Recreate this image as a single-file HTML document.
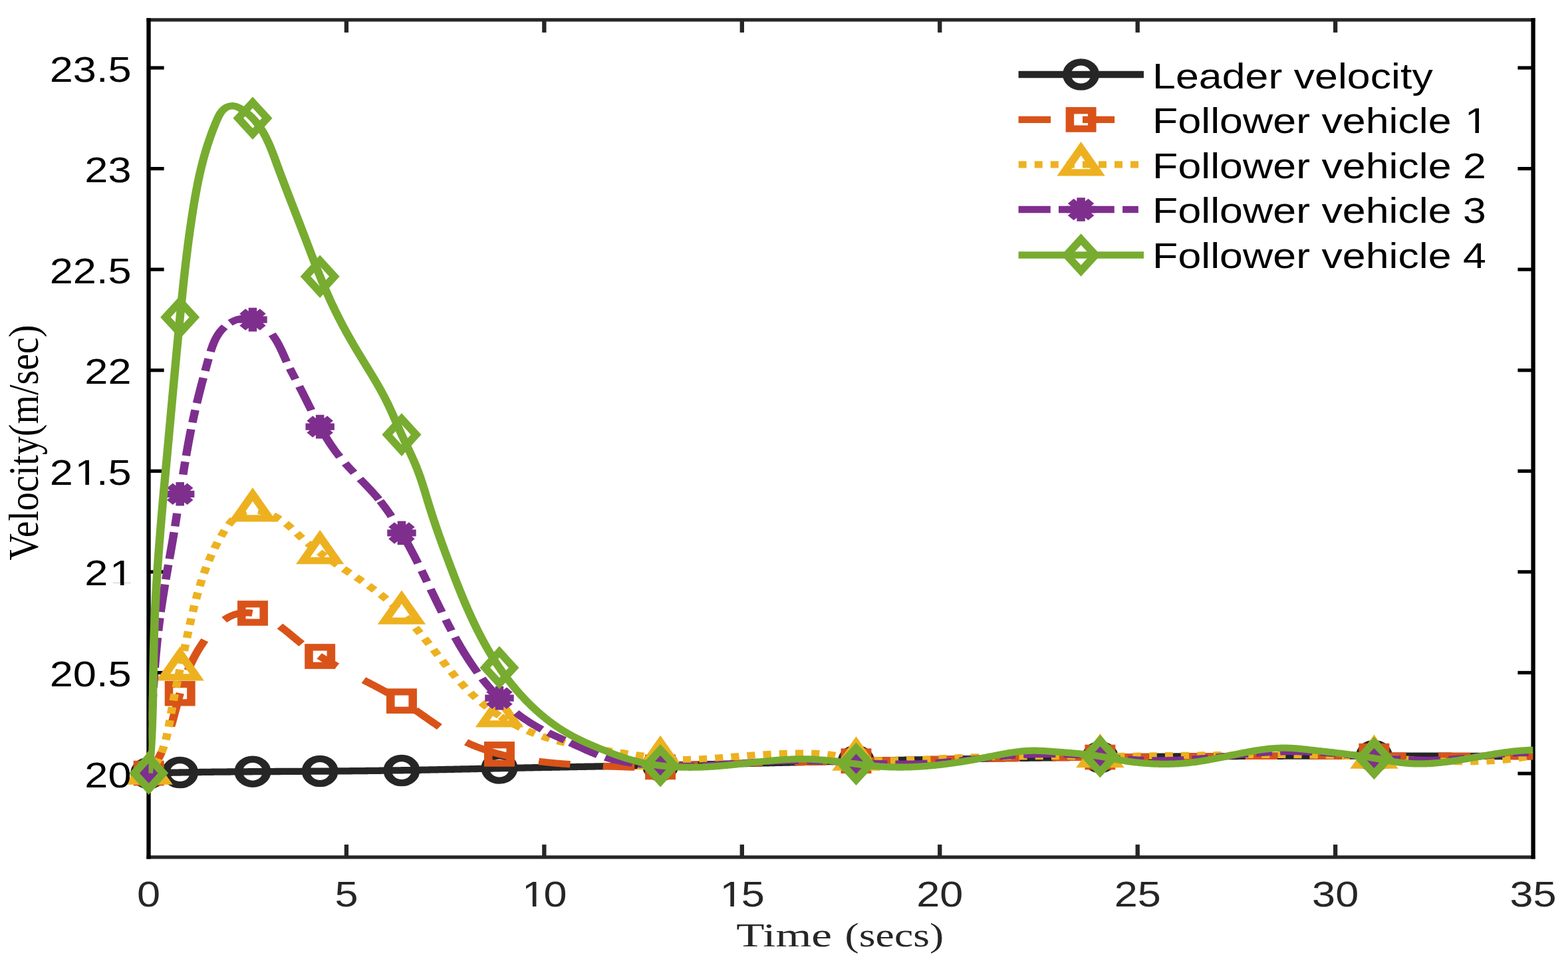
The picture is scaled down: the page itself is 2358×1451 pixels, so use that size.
<!DOCTYPE html>
<html lang="en"><head><meta charset="utf-8"><title>Velocity of leader and follower vehicles</title>
<style>html,body{margin:0;padding:0;background:#fff;}body{width:2358px;height:1451px;overflow:hidden;}svg{display:block;}text{white-space:pre;}.sans{font-family:"Liberation Sans",Arial,Helvetica,sans-serif;}.serif{font-family:"Liberation Serif","Times New Roman",Times,serif;}</style></head><body>
<svg xmlns="http://www.w3.org/2000/svg" width="2358" height="1451" viewBox="0 0 2358 1451">
<rect x="0" y="0" width="2358" height="1451" fill="#ffffff"/>
<g transform="scale(1.2188,1)" fill="none">
<g stroke="#262626" stroke-width="5.2">
<line x1="180.78" y1="1288.9" x2="1894.3" y2="1288.9"/>
<line x1="180.78" y1="29.9" x2="1894.3" y2="29.9"/>
<line x1="427.42" y1="1288.9" x2="427.42" y2="1269.9"/>
<line x1="427.42" y1="29.9" x2="427.42" y2="48.9"/>
<line x1="671.47" y1="1288.9" x2="671.47" y2="1269.9"/>
<line x1="671.47" y1="29.9" x2="671.47" y2="48.9"/>
<line x1="915.51" y1="1288.9" x2="915.51" y2="1269.9"/>
<line x1="915.51" y1="29.9" x2="915.51" y2="48.9"/>
<line x1="1159.56" y1="1288.9" x2="1159.56" y2="1269.9"/>
<line x1="1159.56" y1="29.9" x2="1159.56" y2="48.9"/>
<line x1="1403.61" y1="1288.9" x2="1403.61" y2="1269.9"/>
<line x1="1403.61" y1="29.9" x2="1403.61" y2="48.9"/>
<line x1="1647.65" y1="1288.9" x2="1647.65" y2="1269.9"/>
<line x1="1647.65" y1="29.9" x2="1647.65" y2="48.9"/>
</g>
<g stroke="#000000" stroke-width="5.2">
<line x1="183.38" y1="27.3" x2="183.38" y2="1291.5"/>
<line x1="1891.7" y1="27.3" x2="1891.7" y2="1291.5"/>
<line x1="183.38" y1="1163.05" x2="202.38" y2="1163.05"/>
<line x1="1891.7" y1="1163.05" x2="1872.7" y2="1163.05"/>
<line x1="183.38" y1="1011.47" x2="202.38" y2="1011.47"/>
<line x1="1891.7" y1="1011.47" x2="1872.7" y2="1011.47"/>
<line x1="183.38" y1="859.89" x2="202.38" y2="859.89"/>
<line x1="1891.7" y1="859.89" x2="1872.7" y2="859.89"/>
<line x1="183.38" y1="708.31" x2="202.38" y2="708.31"/>
<line x1="1891.7" y1="708.31" x2="1872.7" y2="708.31"/>
<line x1="183.38" y1="556.74" x2="202.38" y2="556.74"/>
<line x1="1891.7" y1="556.74" x2="1872.7" y2="556.74"/>
<line x1="183.38" y1="405.16" x2="202.38" y2="405.16"/>
<line x1="1891.7" y1="405.16" x2="1872.7" y2="405.16"/>
<line x1="183.38" y1="253.58" x2="202.38" y2="253.58"/>
<line x1="1891.7" y1="253.58" x2="1872.7" y2="253.58"/>
<line x1="183.38" y1="102" x2="202.38" y2="102"/>
<line x1="1891.7" y1="102" x2="1872.7" y2="102"/>
</g>
<clipPath id="axclip"><rect x="183.38" y="29.9" width="1708.32" height="1259"/></clipPath>
<g stroke="#262626" stroke-width="10.3" stroke-linejoin="round">
<g clip-path="url(#axclip)">
<path d="M183.54 1162.6L185.04 1162.55L186.54 1162.5L188.04 1162.45L189.54 1162.4L191.04 1162.35L192.54 1162.3L194.04 1162.25L195.54 1162.21L197.03 1162.16L198.53 1162.12L200.03 1162.07L201.53 1162.03L203.03 1161.99L204.53 1161.94L206.03 1161.9L207.53 1161.86L209.03 1161.82L210.53 1161.78L212.03 1161.74L213.53 1161.7L215.03 1161.67L216.53 1161.63L218.03 1161.59L219.53 1161.56L221.03 1161.52L222.53 1161.49L224.02 1161.45L225.52 1161.42L227.02 1161.38L228.52 1161.35L230.02 1161.32L231.52 1161.29L233.02 1161.26L234.52 1161.23L236.02 1161.2L237.52 1161.17L239.02 1161.14L240.52 1161.11L242.02 1161.08L243.52 1161.06L245.02 1161.03L246.52 1161L248.02 1160.98L249.52 1160.95L251.02 1160.93L252.52 1160.9L254.02 1160.88L255.52 1160.85L257.02 1160.83L258.52 1160.81L260.02 1160.79L261.52 1160.76L263.02 1160.74L264.52 1160.72L266.02 1160.7L267.52 1160.68L269.02 1160.66L270.52 1160.64L272.02 1160.62L273.52 1160.6L275.01 1160.58L276.51 1160.56L278.01 1160.55L279.51 1160.53L281.01 1160.51L282.51 1160.5L284.01 1160.48L285.51 1160.46L287.01 1160.45L288.51 1160.43L290.01 1160.42L291.51 1160.4L293.01 1160.39L294.51 1160.37L296.01 1160.36L297.51 1160.34L299.01 1160.33L300.51 1160.31L302.01 1160.3L303.51 1160.29L305.01 1160.28L306.51 1160.26L308.01 1160.25L309.51 1160.24L311.01 1160.23L312.51 1160.21L314.01 1160.2L315.51 1160.19L317.01 1160.18L318.51 1160.17L320.01 1160.16L321.51 1160.14L323.01 1160.13L324.51 1160.12L326.01 1160.11L327.51 1160.1L329.01 1160.09L330.51 1160.08L332.01 1160.07L333.51 1160.06L335.01 1160.05L336.51 1160.04L338.01 1160.03L339.51 1160.02L341.01 1160.01L342.51 1160L344.01 1159.99L345.51 1159.98L347.01 1159.97L348.51 1159.96L350.01 1159.95L351.51 1159.94L353.01 1159.93L354.51 1159.92L356.01 1159.91L357.51 1159.9L359.01 1159.9L360.51 1159.89L362.01 1159.88L363.51 1159.87L365.01 1159.86L366.51 1159.85L368.01 1159.84L369.51 1159.83L371.01 1159.82L372.51 1159.81L374.01 1159.8L375.51 1159.79L377.01 1159.77L378.51 1159.76L380.01 1159.75L381.51 1159.74L383.01 1159.73L384.51 1159.72L386.01 1159.71L387.51 1159.7L389.01 1159.69L390.51 1159.67L392.01 1159.66L393.51 1159.65L395.01 1159.64L396.51 1159.62L398.01 1159.61L399.51 1159.6L401.01 1159.59L402.51 1159.57L404.01 1159.56L405.51 1159.55L407.01 1159.53L408.51 1159.52L410.01 1159.5L411.51 1159.49L413.01 1159.47L414.51 1159.46L416.01 1159.44L417.51 1159.43L419.01 1159.41L420.51 1159.4L422.01 1159.38L423.51 1159.36L425.01 1159.35L426.51 1159.33L428.01 1159.31L429.51 1159.3L431.01 1159.28L432.51 1159.26L434.01 1159.24L435.51 1159.22L437.01 1159.21L438.51 1159.19L440.01 1159.17L441.51 1159.15L443.01 1159.13L444.51 1159.11L446.01 1159.09L447.5 1159.07L449 1159.05L450.5 1159.03L452 1159.01L453.5 1158.99L455 1158.96L456.5 1158.94L458 1158.92L459.5 1158.9L461 1158.87L462.5 1158.85L464 1158.83L465.5 1158.8L467 1158.78L468.5 1158.76L470 1158.73L471.5 1158.71L473 1158.68L474.5 1158.66L476 1158.63L477.5 1158.6L479 1158.58L480.5 1158.55L482 1158.52L483.5 1158.5L485 1158.47L486.5 1158.44L488 1158.41L489.5 1158.39L491 1158.36L492.5 1158.33L493.99 1158.3L495.49 1158.27L496.99 1158.24L498.49 1158.21L499.99 1158.18L501.49 1158.15L502.99 1158.11L504.49 1158.08L505.99 1158.05L507.49 1158.02L508.99 1157.99L510.49 1157.95L511.99 1157.92L513.49 1157.89L514.99 1157.85L516.49 1157.82L517.99 1157.78L519.49 1157.75L520.99 1157.72L522.49 1157.68L523.99 1157.65L525.48 1157.61L526.98 1157.57L528.48 1157.54L529.98 1157.5L531.48 1157.47L532.98 1157.43L534.48 1157.39L535.98 1157.36L537.48 1157.32L538.98 1157.28L540.48 1157.25L541.98 1157.21L543.48 1157.17L544.98 1157.13L546.48 1157.1L547.98 1157.06L549.48 1157.02L550.98 1156.98L552.47 1156.94L553.97 1156.9L555.47 1156.87L556.97 1156.83L558.47 1156.79L559.97 1156.75L561.47 1156.71L562.97 1156.67L564.47 1156.63L565.97 1156.59L567.47 1156.55L568.97 1156.51L570.47 1156.47L571.97 1156.43L573.47 1156.4L574.97 1156.36L576.47 1156.32L577.97 1156.28L579.46 1156.24L580.96 1156.2L582.46 1156.16L583.96 1156.12L585.46 1156.08L586.96 1156.04L588.46 1156L589.96 1155.96L591.46 1155.92L592.96 1155.88L594.46 1155.84L595.96 1155.8L597.46 1155.76L598.96 1155.72L600.46 1155.68L601.96 1155.64L603.46 1155.6L604.95 1155.56L606.45 1155.52L607.95 1155.49L609.45 1155.45L610.95 1155.41L612.45 1155.37L613.95 1155.33L615.45 1155.29L616.95 1155.25L618.45 1155.21L619.95 1155.18L621.45 1155.14L622.95 1155.1L624.45 1155.06L625.95 1155.02L627.45 1154.99L628.95 1154.95L630.45 1154.91L631.94 1154.87L633.44 1154.84L634.94 1154.8L636.44 1154.76L637.94 1154.73L639.44 1154.69L640.94 1154.65L642.44 1154.62L643.94 1154.58L645.44 1154.54L646.94 1154.51L648.44 1154.47L649.94 1154.43L651.44 1154.4L652.94 1154.36L654.44 1154.33L655.94 1154.29L657.44 1154.25L658.94 1154.22L660.44 1154.18L661.94 1154.15L663.43 1154.11L664.93 1154.08L666.43 1154.04L667.93 1154L669.43 1153.97L670.93 1153.93L672.43 1153.9L673.93 1153.86L675.43 1153.83L676.93 1153.79L678.43 1153.76L679.93 1153.73L681.43 1153.69L682.93 1153.66L684.43 1153.62L685.93 1153.59L687.43 1153.55L688.93 1153.52L690.43 1153.48L691.93 1153.45L693.43 1153.41L694.93 1153.38L696.42 1153.35L697.92 1153.31L699.42 1153.28L700.92 1153.24L702.42 1153.21L703.92 1153.18L705.42 1153.14L706.92 1153.11L708.42 1153.07L709.92 1153.04L711.42 1153.01L712.92 1152.97L714.42 1152.94L715.92 1152.91L717.42 1152.87L718.92 1152.84L720.42 1152.8L721.92 1152.77L723.42 1152.74L724.92 1152.7L726.42 1152.67L727.92 1152.64L729.42 1152.6L730.91 1152.57L732.41 1152.54L733.91 1152.5L735.41 1152.47L736.91 1152.44L738.41 1152.4L739.91 1152.37L741.41 1152.34L742.91 1152.3L744.41 1152.27L745.91 1152.24L747.41 1152.2L748.91 1152.17L750.41 1152.13L751.91 1152.1L753.41 1152.07L754.91 1152.03L756.41 1152L757.91 1151.97L759.41 1151.93L760.91 1151.9L762.41 1151.87L763.91 1151.83L765.41 1151.8L766.9 1151.77L768.4 1151.73L769.9 1151.7L771.4 1151.67L772.9 1151.63L774.4 1151.6L775.9 1151.56L777.4 1151.53L778.9 1151.5L780.4 1151.46L781.9 1151.43L783.4 1151.4L784.9 1151.36L786.4 1151.33L787.9 1151.29L789.4 1151.26L790.9 1151.23L792.4 1151.19L793.9 1151.16L795.4 1151.12L796.9 1151.09L798.4 1151.05L799.9 1151.02L801.39 1150.99L802.89 1150.95L804.39 1150.92L805.89 1150.88L807.39 1150.85L808.89 1150.81L810.39 1150.78L811.89 1150.74L813.39 1150.71L814.89 1150.67L816.39 1150.64L817.89 1150.6L819.39 1150.57L820.89 1150.53L822.39 1150.5L823.89 1150.46L825.39 1150.43L826.89 1150.39L828.39 1150.36L829.89 1150.32L831.39 1150.29L832.88 1150.25L834.38 1150.21L835.88 1150.18L837.38 1150.14L838.88 1150.11L840.38 1150.07L841.88 1150.03L843.38 1150L844.88 1149.96L846.38 1149.92L847.88 1149.89L849.38 1149.85L850.88 1149.81L852.38 1149.78L853.88 1149.74L855.38 1149.7L856.88 1149.67L858.38 1149.63L859.88 1149.59L861.38 1149.55L862.87 1149.52L864.37 1149.48L865.87 1149.44L867.37 1149.4L868.87 1149.37L870.37 1149.33L871.87 1149.29L873.37 1149.25L874.87 1149.21L876.37 1149.17L877.87 1149.14L879.37 1149.1L880.87 1149.06L882.37 1149.02L883.87 1148.98L885.37 1148.94L886.87 1148.9L888.37 1148.86L889.87 1148.82L891.36 1148.78L892.86 1148.74L894.36 1148.7L895.86 1148.67L897.36 1148.63L898.86 1148.59L900.36 1148.55L901.86 1148.51L903.36 1148.47L904.86 1148.42L906.36 1148.38L907.86 1148.34L909.36 1148.3L910.86 1148.26L912.36 1148.22L913.86 1148.18L915.36 1148.14L916.85 1148.1L918.35 1148.06L919.85 1148.02L921.35 1147.98L922.85 1147.94L924.35 1147.89L925.85 1147.85L927.35 1147.81L928.85 1147.77L930.35 1147.73L931.85 1147.69L933.35 1147.65L934.85 1147.6L936.35 1147.56L937.85 1147.52L939.35 1147.48L940.85 1147.44L942.34 1147.39L943.84 1147.35L945.34 1147.31L946.84 1147.27L948.34 1147.23L949.84 1147.18L951.34 1147.14L952.84 1147.1L954.34 1147.06L955.84 1147.02L957.34 1146.97L958.84 1146.93L960.34 1146.89L961.84 1146.85L963.34 1146.8L964.84 1146.76L966.33 1146.72L967.83 1146.68L969.33 1146.63L970.83 1146.59L972.33 1146.55L973.83 1146.51L975.33 1146.46L976.83 1146.42L978.33 1146.38L979.83 1146.34L981.33 1146.29L982.83 1146.25L984.33 1146.21L985.83 1146.17L987.33 1146.12L988.83 1146.08L990.33 1146.04L991.82 1146L993.32 1145.96L994.82 1145.91L996.32 1145.87L997.82 1145.83L999.32 1145.79L1000.82 1145.74L1002.32 1145.7L1003.82 1145.66L1005.32 1145.62L1006.82 1145.58L1008.32 1145.53L1009.82 1145.49L1011.32 1145.45L1012.82 1145.41L1014.32 1145.37L1015.82 1145.33L1017.31 1145.28L1018.81 1145.24L1020.31 1145.2L1021.81 1145.16L1023.31 1145.12L1024.81 1145.08L1026.31 1145.04L1027.81 1144.99L1029.31 1144.95L1030.81 1144.91L1032.31 1144.87L1033.81 1144.83L1035.31 1144.79L1036.81 1144.75L1038.31 1144.71L1039.81 1144.67L1041.31 1144.63L1042.8 1144.59L1044.3 1144.55L1045.8 1144.51L1047.3 1144.47L1048.8 1144.43L1050.3 1144.39L1051.8 1144.35L1053.3 1144.31L1054.8 1144.27L1056.3 1144.23L1057.8 1144.19L1059.3 1144.15L1060.8 1144.11L1062.3 1144.07L1063.8 1144.03L1065.3 1143.99L1066.8 1143.96L1068.3 1143.92L1069.8 1143.88L1071.29 1143.84L1072.79 1143.8L1074.29 1143.76L1075.79 1143.73L1077.29 1143.69L1078.79 1143.65L1080.29 1143.61L1081.79 1143.57L1083.29 1143.54L1084.79 1143.5L1086.29 1143.46L1087.79 1143.43L1089.29 1143.39L1090.79 1143.35L1092.29 1143.32L1093.79 1143.28L1095.29 1143.24L1096.79 1143.21L1098.29 1143.17L1099.79 1143.13L1101.28 1143.1L1102.78 1143.06L1104.28 1143.03L1105.78 1142.99L1107.28 1142.95L1108.78 1142.92L1110.28 1142.88L1111.78 1142.85L1113.28 1142.81L1114.78 1142.78L1116.28 1142.74L1117.78 1142.71L1119.28 1142.67L1120.78 1142.64L1122.28 1142.6L1123.78 1142.57L1125.28 1142.53L1126.78 1142.5L1128.28 1142.47L1129.78 1142.43L1131.28 1142.4L1132.77 1142.36L1134.27 1142.33L1135.77 1142.3L1137.27 1142.26L1138.77 1142.23L1140.27 1142.2L1141.77 1142.16L1143.27 1142.13L1144.77 1142.1L1146.27 1142.07L1147.77 1142.03L1149.27 1142L1150.77 1141.97L1152.27 1141.94L1153.77 1141.9L1155.27 1141.87L1156.77 1141.84L1158.27 1141.81L1159.77 1141.77L1161.27 1141.74L1162.77 1141.71L1164.27 1141.68L1165.77 1141.65L1167.27 1141.62L1168.77 1141.59L1170.26 1141.55L1171.76 1141.52L1173.26 1141.49L1174.76 1141.46L1176.26 1141.43L1177.76 1141.4L1179.26 1141.37L1180.76 1141.34L1182.26 1141.31L1183.76 1141.28L1185.26 1141.25L1186.76 1141.22L1188.26 1141.19L1189.76 1141.16L1191.26 1141.13L1192.76 1141.1L1194.26 1141.07L1195.76 1141.04L1197.26 1141.01L1198.76 1140.98L1200.26 1140.95L1201.76 1140.93L1203.26 1140.9L1204.76 1140.87L1206.26 1140.84L1207.76 1140.81L1209.26 1140.78L1210.75 1140.75L1212.25 1140.73L1213.75 1140.7L1215.25 1140.67L1216.75 1140.64L1218.25 1140.61L1219.75 1140.59L1221.25 1140.56L1222.75 1140.53L1224.25 1140.5L1225.75 1140.48L1227.25 1140.45L1228.75 1140.42L1230.25 1140.4L1231.75 1140.37L1233.25 1140.34L1234.75 1140.32L1236.25 1140.29L1237.75 1140.26L1239.25 1140.24L1240.75 1140.21L1242.25 1140.18L1243.75 1140.16L1245.25 1140.13L1246.75 1140.11L1248.25 1140.08L1249.75 1140.06L1251.25 1140.03L1252.75 1140L1254.25 1139.98L1255.75 1139.95L1257.24 1139.93L1258.74 1139.9L1260.24 1139.88L1261.74 1139.85L1263.24 1139.83L1264.74 1139.81L1266.24 1139.78L1267.74 1139.76L1269.24 1139.73L1270.74 1139.71L1272.24 1139.68L1273.74 1139.66L1275.24 1139.64L1276.74 1139.61L1278.24 1139.59L1279.74 1139.56L1281.24 1139.54L1282.74 1139.52L1284.24 1139.49L1285.74 1139.47L1287.24 1139.45L1288.74 1139.43L1290.24 1139.4L1291.74 1139.38L1293.24 1139.36L1294.74 1139.33L1296.24 1139.31L1297.74 1139.29L1299.24 1139.27L1300.74 1139.24L1302.24 1139.22L1303.74 1139.2L1305.24 1139.18L1306.74 1139.16L1308.24 1139.14L1309.74 1139.11L1311.24 1139.09L1312.74 1139.07L1314.23 1139.05L1315.73 1139.03L1317.23 1139.01L1318.73 1138.99L1320.23 1138.97L1321.73 1138.94L1323.23 1138.92L1324.73 1138.9L1326.23 1138.88L1327.73 1138.86L1329.23 1138.84L1330.73 1138.82L1332.23 1138.8L1333.73 1138.78L1335.23 1138.76L1336.73 1138.74L1338.23 1138.72L1339.73 1138.7L1341.23 1138.68L1342.73 1138.66L1344.23 1138.64L1345.73 1138.62L1347.23 1138.61L1348.73 1138.59L1350.23 1138.57L1351.73 1138.55L1353.23 1138.53L1354.73 1138.51L1356.23 1138.49L1357.73 1138.47L1359.23 1138.46L1360.73 1138.44L1362.23 1138.42L1363.73 1138.4L1365.23 1138.38L1366.73 1138.36L1368.23 1138.35L1369.73 1138.33L1371.23 1138.31L1372.73 1138.29L1374.23 1138.28L1375.73 1138.26L1377.23 1138.24L1378.73 1138.22L1380.23 1138.21L1381.73 1138.19L1383.23 1138.17L1384.73 1138.16L1386.22 1138.14L1387.72 1138.12L1389.22 1138.11L1390.72 1138.09L1392.22 1138.07L1393.72 1138.06L1395.22 1138.04L1396.72 1138.03L1398.22 1138.01L1399.72 1137.99L1401.22 1137.98L1402.72 1137.96L1404.22 1137.95L1405.72 1137.93L1407.22 1137.92L1408.72 1137.9L1410.22 1137.89L1411.72 1137.87L1413.22 1137.86L1414.72 1137.84L1416.22 1137.83L1417.72 1137.81L1419.22 1137.8L1420.72 1137.78L1422.22 1137.77L1423.72 1137.75L1425.22 1137.74L1426.72 1137.72L1428.22 1137.71L1429.72 1137.7L1431.22 1137.68L1432.72 1137.67L1434.22 1137.65L1435.72 1137.64L1437.22 1137.63L1438.72 1137.61L1440.22 1137.6L1441.72 1137.59L1443.22 1137.57L1444.72 1137.56L1446.22 1137.55L1447.72 1137.53L1449.22 1137.52L1450.72 1137.51L1452.22 1137.5L1453.72 1137.48L1455.22 1137.47L1456.72 1137.46L1458.22 1137.45L1459.72 1137.43L1461.22 1137.42L1462.72 1137.41L1464.22 1137.4L1465.72 1137.39L1467.22 1137.37L1468.72 1137.36L1470.22 1137.35L1471.72 1137.34L1473.22 1137.33L1474.72 1137.32L1476.22 1137.31L1477.72 1137.29L1479.22 1137.28L1480.72 1137.27L1482.22 1137.26L1483.72 1137.25L1485.22 1137.24L1486.72 1137.23L1488.22 1137.22L1489.71 1137.21L1491.21 1137.2L1492.71 1137.19L1494.21 1137.18L1495.71 1137.17L1497.21 1137.16L1498.71 1137.15L1500.21 1137.14L1501.71 1137.13L1503.21 1137.12L1504.71 1137.11L1506.21 1137.1L1507.71 1137.09L1509.21 1137.08L1510.71 1137.07L1512.21 1137.06L1513.71 1137.05L1515.21 1137.04L1516.71 1137.04L1518.21 1137.03L1519.71 1137.02L1521.21 1137.01L1522.71 1137L1524.21 1136.99L1525.71 1136.98L1527.21 1136.98L1528.71 1136.97L1530.21 1136.96L1531.71 1136.95L1533.21 1136.94L1534.71 1136.94L1536.21 1136.93L1537.71 1136.92L1539.21 1136.91L1540.71 1136.91L1542.21 1136.9L1543.71 1136.89L1545.21 1136.88L1546.71 1136.88L1548.21 1136.87L1549.71 1136.86L1551.21 1136.86L1552.71 1136.85L1554.21 1136.84L1555.71 1136.83L1557.21 1136.83L1558.71 1136.82L1560.21 1136.82L1561.71 1136.81L1563.21 1136.8L1564.71 1136.8L1566.21 1136.79L1567.71 1136.78L1569.21 1136.78L1570.71 1136.77L1572.21 1136.77L1573.71 1136.76L1575.21 1136.76L1576.71 1136.75L1578.21 1136.75L1579.71 1136.74L1581.21 1136.73L1582.71 1136.73L1584.21 1136.72L1585.71 1136.72L1587.21 1136.71L1588.71 1136.71L1590.21 1136.7L1591.71 1136.7L1593.21 1136.7L1594.71 1136.69L1596.21 1136.69L1597.71 1136.68L1599.21 1136.68L1600.71 1136.67L1602.21 1136.67L1603.71 1136.67L1605.21 1136.66L1606.71 1136.66L1608.21 1136.65L1609.71 1136.65L1611.21 1136.65L1612.71 1136.64L1614.21 1136.64L1615.71 1136.64L1617.21 1136.63L1618.71 1136.63L1620.21 1136.63L1621.71 1136.62L1623.21 1136.62L1624.71 1136.62L1626.21 1136.62L1627.71 1136.61L1629.21 1136.61L1630.71 1136.61L1632.21 1136.6L1633.71 1136.6L1635.21 1136.6L1636.71 1136.6L1638.21 1136.6L1639.71 1136.59L1641.21 1136.59L1642.71 1136.59L1644.21 1136.59L1645.71 1136.59L1647.21 1136.58L1648.71 1136.58L1650.21 1136.58L1651.71 1136.58L1653.21 1136.58L1654.71 1136.58L1656.21 1136.58L1657.71 1136.57L1659.21 1136.57L1660.71 1136.57L1662.21 1136.57L1663.71 1136.57L1665.21 1136.57L1666.71 1136.57L1668.21 1136.57L1669.71 1136.57L1671.21 1136.57L1672.71 1136.57L1674.21 1136.57L1675.71 1136.57L1677.21 1136.57L1678.71 1136.57L1680.21 1136.57L1681.7 1136.57L1683.2 1136.57L1684.7 1136.57L1686.2 1136.57L1687.7 1136.57L1689.2 1136.57L1690.7 1136.57L1692.2 1136.57L1693.7 1136.57L1695.2 1136.57L1696.7 1136.57L1698.2 1136.57L1699.7 1136.57L1701.2 1136.58L1702.7 1136.58L1704.2 1136.58L1705.7 1136.58L1707.2 1136.58L1708.7 1136.58L1710.2 1136.58L1711.7 1136.59L1713.2 1136.59L1714.7 1136.59L1716.2 1136.59L1717.7 1136.59L1719.2 1136.59L1720.7 1136.6L1722.2 1136.6L1723.7 1136.6L1725.2 1136.6L1726.7 1136.61L1728.2 1136.61L1729.7 1136.61L1731.2 1136.61L1732.7 1136.62L1734.2 1136.62L1735.7 1136.62L1737.2 1136.62L1738.7 1136.63L1740.2 1136.63L1741.7 1136.63L1743.2 1136.64L1744.7 1136.64L1746.2 1136.64L1747.7 1136.65L1749.2 1136.65L1750.7 1136.65L1752.2 1136.66L1753.7 1136.66L1755.2 1136.66L1756.7 1136.67L1758.2 1136.67L1759.7 1136.68L1761.2 1136.68L1762.7 1136.68L1764.2 1136.69L1765.7 1136.69L1767.2 1136.7L1768.7 1136.7L1770.2 1136.71L1771.7 1136.71L1773.2 1136.72L1774.7 1136.72L1776.2 1136.73L1777.7 1136.73L1779.2 1136.73L1780.7 1136.74L1782.2 1136.74L1783.7 1136.75L1785.2 1136.76L1786.7 1136.76L1788.2 1136.77L1789.7 1136.77L1791.2 1136.78L1792.7 1136.78L1794.2 1136.79L1795.7 1136.79L1797.2 1136.8L1798.7 1136.81L1800.2 1136.81L1801.7 1136.82L1803.2 1136.82L1804.7 1136.83L1806.2 1136.84L1807.7 1136.84L1809.2 1136.85L1810.7 1136.85L1812.2 1136.86L1813.7 1136.87L1815.2 1136.87L1816.7 1136.88L1818.2 1136.89L1819.7 1136.89L1821.2 1136.9L1822.7 1136.91L1824.2 1136.92L1825.7 1136.92L1827.2 1136.93L1828.7 1136.94L1830.2 1136.94L1831.7 1136.95L1833.2 1136.96L1834.7 1136.97L1836.2 1136.97L1837.7 1136.98L1839.2 1136.99L1840.7 1137L1842.2 1137L1843.7 1137.01L1845.2 1137.02L1846.7 1137.03L1848.2 1137.04L1849.7 1137.04L1851.2 1137.05L1852.7 1137.06L1854.2 1137.07L1855.7 1137.08L1857.2 1137.09L1858.7 1137.1L1860.2 1137.1L1861.7 1137.11L1863.2 1137.12L1864.7 1137.13L1866.2 1137.14L1867.7 1137.15L1869.2 1137.16L1870.7 1137.17L1872.2 1137.18L1873.7 1137.18L1875.2 1137.19L1876.7 1137.2L1878.2 1137.21L1879.7 1137.22L1881.2 1137.23L1882.7 1137.24L1884.2 1137.25L1885.7 1137.26L1887.2 1137.27L1888.7 1137.28L1890.2 1137.29L1891.7 1137.3"/>
</g>
<ellipse cx="183.54" cy="1162.6" rx="17.4" ry="18.6" fill="none" stroke="#262626" stroke-width="10.3"/>
<ellipse cx="222.1" cy="1161.5" rx="17.4" ry="18.6" fill="none" stroke="#262626" stroke-width="10.3"/>
<ellipse cx="311.78" cy="1160.2" rx="17.4" ry="18.6" fill="none" stroke="#262626" stroke-width="10.3"/>
<ellipse cx="394.81" cy="1159.5" rx="17.4" ry="18.6" fill="none" stroke="#262626" stroke-width="10.3"/>
<ellipse cx="495.57" cy="1158.6" rx="17.4" ry="18.6" fill="none" stroke="#262626" stroke-width="10.3"/>
<ellipse cx="616.18" cy="1155" rx="17.4" ry="18.6" fill="none" stroke="#262626" stroke-width="10.3"/>
<ellipse cx="814.82" cy="1150.8" rx="17.4" ry="18.6" fill="none" stroke="#262626" stroke-width="10.3"/>
<ellipse cx="1056.37" cy="1144.2" rx="17.4" ry="18.6" fill="none" stroke="#262626" stroke-width="10.3"/>
<ellipse cx="1357.4" cy="1138.5" rx="17.4" ry="18.6" fill="none" stroke="#262626" stroke-width="10.3"/>
<ellipse cx="1695.44" cy="1136.6" rx="17.4" ry="18.6" fill="none" stroke="#262626" stroke-width="10.3"/>
</g>
<g stroke="#D95319" stroke-width="10.3" stroke-linejoin="round">
<g clip-path="url(#axclip)">
<path d="M183.54 1162.6L184.35 1161.35L185.15 1160.09L185.93 1158.82L186.7 1157.55L187.45 1156.27L188.19 1154.98L188.92 1153.69L189.63 1152.39L190.33 1151.09L191.02 1149.77L191.7 1148.46L192.36 1147.13L193.01 1145.8L193.65 1144.47L194.28 1143.13L194.9 1141.78L195.5 1140.43L196.1 1139.07L196.68 1137.71L197.26 1136.34L197.82 1134.97L198.37 1133.6L198.92 1132.21L199.45 1130.83"/>
<path d="M210.98 1092.1L211.33 1090.63L211.68 1089.16L212.02 1087.69L212.36 1086.22L212.7 1084.75L213.03 1083.28L213.36 1081.8L213.69 1080.33L214.02 1078.85L214.35 1077.38L214.67 1075.9L215 1074.43L215.32 1072.95L215.64 1071.48L215.96 1070L216.28 1068.53L216.6 1067.06L216.92 1065.58L217.24 1064.11L217.56 1062.64L217.88 1061.17L218.2 1059.7L218.52 1058.23L218.85 1056.76L219.17 1055.29L219.5 1053.83L219.83 1052.36L220.16 1050.9L220.49 1049.44L220.82 1047.98L221.16 1046.53L221.5 1045.07L221.85 1043.62L222.2 1042.17"/>
<path d="M231.95 1008.05L232.44 1006.66L232.92 1005.26L233.42 1003.87L233.93 1002.47L234.44 1001.08L234.96 999.69L235.49 998.3L236.02 996.92L236.57 995.53L237.12 994.15L237.69 992.76L238.26 991.38L238.84 990L239.43 988.62L240.03 987.24L240.64 985.87L241.25 984.49L241.88 983.12L242.52 981.74L243.17 980.37L243.83 979L244.5 977.63L245.18 976.26L245.87 974.89L246.57 973.52L247.28 972.16L248 970.79L248.74 969.43L249.48 968.06L250.24 966.7L251.01 965.33L251.79 963.97L252.59 962.61"/>
<path d="M276.73 931.96L277.89 931.02L279.05 930.12L280.24 929.26L281.44 928.43L282.65 927.64L283.88 926.89L285.13 926.18L286.39 925.52L287.67 924.9L288.96 924.32L290.27 923.79L291.6 923.31L292.95 922.88L294.31 922.5L295.68 922.17L297.08 921.89L298.48 921.67L299.9 921.49L301.33 921.37L302.76 921.3L304.2 921.28L305.64 921.32L307.08 921.4L308.52 921.54L309.95 921.73L311.39 921.97"/>
<path d="M345.35 941.52L346.51 942.57L347.66 943.61L348.79 944.67L349.92 945.73L351.03 946.79L352.14 947.85L353.23 948.92L354.32 950L355.4 951.07L356.48 952.14L357.55 953.22L358.62 954.3L359.68 955.37L360.74 956.45L361.79 957.52L362.85 958.59L363.9 959.66L364.96 960.73L366.01 961.79L367.07 962.85L368.12 963.9L369.18 964.95L370.25 965.99L371.32 967.03L372.39 968.06"/>
<path d="M393.91 986.29L395.1 987.19L396.28 988.08L397.48 988.97L398.67 989.85L399.87 990.73L401.08 991.6L402.28 992.47L403.5 993.34L404.71 994.2L405.93 995.05L407.15 995.91L408.38 996.75L409.61 997.6L410.84 998.44L412.08 999.28L413.31 1000.11L414.56 1000.94L415.8 1001.77"/>
<path d="M448.72 1022.67L449.99 1023.47L451.27 1024.26L452.54 1025.06L453.82 1025.86L455.09 1026.66L456.36 1027.46L457.64 1028.26L458.91 1029.07L460.18 1029.87L461.45 1030.68L462.72 1031.49L463.98 1032.3L465.25 1033.12L466.51 1033.93L467.77 1034.75L469.03 1035.57L470.29 1036.39L471.55 1037.22L472.8 1038.05L474.05 1038.88L475.3 1039.72L476.55 1040.56L477.79 1041.4L479.03 1042.24"/>
<path d="M512.44 1067.76L513.59 1068.73L514.74 1069.7L515.89 1070.67L517.04 1071.64L518.18 1072.62L519.32 1073.59L520.47 1074.57L521.61 1075.54L522.75 1076.52L523.89 1077.5L525.04 1078.47L526.18 1079.45L527.32 1080.42L528.46 1081.4L529.61 1082.37L530.75 1083.34L531.9 1084.31L533.04 1085.28L534.19 1086.24L535.34 1087.21L536.49 1088.17L537.65 1089.13L538.8 1090.08L539.96 1091.03L541.12 1091.98L542.28 1092.92"/>
<path d="M575.21 1116.09L576.51 1116.83L577.81 1117.56L579.13 1118.28L580.45 1118.99L581.77 1119.69L583.11 1120.38L584.45 1121.06L585.79 1121.73L587.15 1122.39L588.5 1123.04L589.87 1123.67L591.23 1124.3L592.61 1124.92L593.98 1125.53L595.37 1126.13L596.75 1126.72L598.15 1127.3L599.54 1127.87L600.94 1128.43L602.34 1128.98L603.75 1129.53L605.16 1130.06L606.58 1130.58L607.99 1131.1L609.41 1131.6L610.84 1132.1L612.26 1132.59L613.69 1133.06L615.12 1133.53L616.55 1133.99L617.99 1134.44L619.42 1134.89L620.86 1135.32L622.3 1135.75L623.74 1136.16L625.18 1136.57L626.63 1136.97L628.08 1137.37"/>
<path d="M664.73 1144.87L666.21 1145.09L667.69 1145.3L669.18 1145.51L670.66 1145.72L672.15 1145.92L673.64 1146.11L675.12 1146.3L676.61 1146.49L678.1 1146.67L679.59 1146.85L681.09 1147.02L682.58 1147.19L684.07 1147.35L685.56 1147.51L687.06 1147.67L688.55 1147.82L690.05 1147.97L691.54 1148.12L693.04 1148.26L694.54 1148.4L696.04 1148.53L697.53 1148.66L699.03 1148.79L700.53 1148.92L702.03 1149.04L703.53 1149.17"/>
<path d="M744.08 1151.81L745.58 1151.9L747.08 1151.99L748.57 1152.08L750.07 1152.17L751.57 1152.25L753.07 1152.34L754.57 1152.43L756.07 1152.51L757.56 1152.6L759.06 1152.68L760.56 1152.76L762.05 1152.85L763.55 1152.92L765.05 1153L766.54 1153.08L768.04 1153.15L769.54 1153.22L771.03 1153.29L772.53 1153.35L774.02 1153.41L775.52 1153.47L777.01 1153.53L778.5 1153.58L780 1153.63L781.49 1153.68L782.99 1153.72"/>
<path d="M814.35 1153.43L815.84 1153.34L817.33 1153.25L818.83 1153.16L820.32 1153.06L821.81 1152.95L823.31 1152.83L824.8 1152.71L826.29 1152.59L827.79 1152.46L829.28 1152.33L830.77 1152.19L832.27 1152.05L833.76 1151.91L835.26 1151.77L836.75 1151.62L838.24 1151.48L839.74 1151.33L841.23 1151.18L842.73 1151.03L844.22 1150.88L845.72 1150.74L847.21 1150.59L848.71 1150.44L850.2 1150.3L851.7 1150.16L853.19 1150.02L854.69 1149.88L856.18 1149.75L857.68 1149.62L859.17 1149.5L860.67 1149.38L862.16 1149.26L863.66 1149.15L865.16 1149.05L866.65 1148.95L868.15 1148.86L869.65 1148.77L871.14 1148.68L872.64 1148.6L874.13 1148.52L875.63 1148.45L877.13 1148.38L878.63 1148.31L880.12 1148.25L881.62 1148.19L883.12 1148.14L884.61 1148.09L886.11 1148.04L887.61 1147.99L889.11 1147.95L890.6 1147.91L892.1 1147.87L893.6 1147.83L895.1 1147.8L896.6 1147.76L898.09 1147.73L899.59 1147.7L901.09 1147.68L902.59 1147.65L904.09 1147.63L905.58 1147.6L907.08 1147.58L908.58 1147.56L910.08 1147.53L911.58 1147.51L913.07 1147.49L914.57 1147.47L916.07 1147.45L917.57 1147.43L919.07 1147.4L920.57 1147.38L922.06 1147.36L923.56 1147.34L925.06 1147.31L926.56 1147.29L928.06 1147.26L929.55 1147.24L931.05 1147.21L932.55 1147.19L934.05 1147.16L935.55 1147.13L937.05 1147.11L938.54 1147.08L940.04 1147.05L941.54 1147.02L943.04 1146.99L944.54 1146.97L946.04 1146.94L947.53 1146.91L949.03 1146.88L950.53 1146.85L952.03 1146.82L953.53 1146.78L955.03 1146.75L956.52 1146.72L958.02 1146.69L959.52 1146.66L961.02 1146.62L962.52 1146.59L964.02 1146.56L965.51 1146.52L967.01 1146.49L968.51 1146.46L970.01 1146.42L971.51 1146.39L973.01 1146.35L974.5 1146.32L976 1146.28L977.5 1146.25L979 1146.21L980.5 1146.17L982 1146.14L983.49 1146.1L984.99 1146.06L986.49 1146.03L987.99 1145.99L989.49 1145.95L990.99 1145.91L992.48 1145.88L993.98 1145.84L995.48 1145.8L996.98 1145.76L998.48 1145.72L999.98 1145.69L1001.47 1145.65L1002.97 1145.61L1004.47 1145.57L1005.97 1145.53L1007.47 1145.49L1008.97 1145.45L1010.46 1145.41L1011.96 1145.37L1013.46 1145.34L1014.96 1145.3L1016.46 1145.26L1017.96 1145.22L1019.45 1145.18L1020.95 1145.14L1022.45 1145.1L1023.95 1145.06L1025.45 1145.02L1026.95 1144.98L1028.44 1144.94L1029.94 1144.9L1031.44 1144.86L1032.94 1144.82L1034.44 1144.78L1035.94 1144.74L1037.44 1144.7L1038.93 1144.66L1040.43 1144.62L1041.93 1144.58L1043.43 1144.54L1044.93 1144.5L1046.43 1144.46L1047.92 1144.42L1049.42 1144.38L1050.92 1144.34L1052.42 1144.3L1053.92 1144.27L1055.42 1144.23L1056.91 1144.19L1058.41 1144.15L1059.91 1144.11L1061.41 1144.07L1062.91 1144.03L1064.41 1143.99L1065.91 1143.96L1067.4 1143.92L1068.9 1143.88L1070.4 1143.84L1071.9 1143.8L1073.4 1143.77L1074.9 1143.73L1076.39 1143.69L1077.89 1143.65L1079.39 1143.62L1080.89 1143.58L1082.39 1143.54L1083.89 1143.51L1085.39 1143.47L1086.88 1143.43L1088.38 1143.4L1089.88 1143.36L1091.38 1143.32L1092.88 1143.29L1094.38 1143.25L1095.87 1143.21L1097.37 1143.18L1098.87 1143.14L1100.37 1143.11L1101.87 1143.07L1103.37 1143.03L1104.87 1143L1106.36 1142.96L1107.86 1142.93L1109.36 1142.89L1110.86 1142.86L1112.36 1142.82L1113.86 1142.79L1115.35 1142.75L1116.85 1142.72L1118.35 1142.69L1119.85 1142.65L1121.35 1142.62L1122.85 1142.58L1124.35 1142.55L1125.84 1142.51L1127.34 1142.48L1128.84 1142.45L1130.34 1142.41L1131.84 1142.38L1133.34 1142.35L1134.84 1142.31L1136.33 1142.28L1137.83 1142.25L1139.33 1142.21L1140.83 1142.18L1142.33 1142.15L1143.83 1142.11L1145.32 1142.08L1146.82 1142.05L1148.32 1142.02L1149.82 1141.98L1151.32 1141.95L1152.82 1141.92L1154.32 1141.89L1155.81 1141.86L1157.31 1141.83L1158.81 1141.79L1160.31 1141.76L1161.81 1141.73L1163.31 1141.7L1164.81 1141.67L1166.3 1141.64L1167.8 1141.61L1169.3 1141.57L1170.8 1141.54L1172.3 1141.51L1173.8 1141.48L1175.3 1141.45L1176.79 1141.42L1178.29 1141.39L1179.79 1141.36L1181.29 1141.33L1182.79 1141.3L1184.29 1141.27L1185.79 1141.24L1187.28 1141.21L1188.78 1141.18L1190.28 1141.15L1191.78 1141.12L1193.28 1141.09L1194.78 1141.06L1196.28 1141.04L1197.77 1141.01L1199.27 1140.98L1200.77 1140.95L1202.27 1140.92L1203.77 1140.89L1205.27 1140.86L1206.76 1140.83L1208.26 1140.81L1209.76 1140.78L1211.26 1140.75L1212.76 1140.72L1214.26 1140.69L1215.76 1140.67L1217.25 1140.64L1218.75 1140.61L1220.25 1140.58L1221.75 1140.56L1223.25 1140.53L1224.75 1140.5L1226.25 1140.48L1227.75 1140.45L1229.24 1140.42L1230.74 1140.39L1232.24 1140.37L1233.74 1140.34L1235.24 1140.31L1236.74 1140.29L1238.24 1140.26L1239.73 1140.24L1241.23 1140.21L1242.73 1140.18L1244.23 1140.16L1245.73 1140.13L1247.23 1140.11L1248.73 1140.08L1250.22 1140.06L1251.72 1140.03L1253.22 1140.01L1254.72 1139.98L1256.22 1139.96L1257.72 1139.93L1259.22 1139.91L1260.71 1139.88L1262.21 1139.86L1263.71 1139.83L1265.21 1139.81L1266.71 1139.78L1268.21 1139.76L1269.71 1139.73L1271.2 1139.71L1272.7 1139.69L1274.2 1139.66L1275.7 1139.64L1277.2 1139.61L1278.7 1139.59L1280.2 1139.57L1281.69 1139.54L1283.19 1139.52L1284.69 1139.5L1286.19 1139.47L1287.69 1139.45L1289.19 1139.43L1290.69 1139.41L1292.19 1139.38L1293.68 1139.36L1295.18 1139.34L1296.68 1139.32L1298.18 1139.29L1299.68 1139.27L1301.18 1139.25L1302.68 1139.23L1304.17 1139.21L1305.67 1139.18L1307.17 1139.16L1308.67 1139.14L1310.17 1139.12L1311.67 1139.1L1313.17 1139.08L1314.66 1139.05L1316.16 1139.03L1317.66 1139.01L1319.16 1138.99L1320.66 1138.97L1322.16 1138.95L1323.66 1138.93L1325.16 1138.91L1326.65 1138.89L1328.15 1138.87L1329.65 1138.85L1331.15 1138.83L1332.65 1138.81L1334.15 1138.79L1335.65 1138.77L1337.14 1138.75L1338.64 1138.73L1340.14 1138.71L1341.64 1138.69L1343.14 1138.67L1344.64 1138.65L1346.14 1138.63L1347.64 1138.61L1349.13 1138.59L1350.63 1138.57L1352.13 1138.55L1353.63 1138.54L1355.13 1138.52L1356.63 1138.5L1358.13 1138.48L1359.62 1138.46L1361.12 1138.44L1362.62 1138.43L1364.12 1138.41L1365.62 1138.39L1367.12 1138.37L1368.62 1138.35L1370.12 1138.34L1371.61 1138.32L1373.11 1138.3L1374.61 1138.28L1376.11 1138.27L1377.61 1138.25L1379.11 1138.23L1380.61 1138.21L1382.11 1138.2L1383.6 1138.18L1385.1 1138.16L1386.6 1138.15L1388.1 1138.13L1389.6 1138.11L1391.1 1138.1L1392.6 1138.08L1394.09 1138.06L1395.59 1138.05L1397.09 1138.03L1398.59 1138.02L1400.09 1138L1401.59 1137.98L1403.09 1137.97L1404.59 1137.95L1406.08 1137.94L1407.58 1137.92L1409.08 1137.91L1410.58 1137.89L1412.08 1137.88L1413.58 1137.86L1415.08 1137.85L1416.58 1137.83L1418.07 1137.82L1419.57 1137.8L1421.07 1137.79L1422.57 1137.77L1424.07 1137.76L1425.57 1137.74L1427.07 1137.73L1428.57 1137.72L1430.06 1137.7L1431.56 1137.69L1433.06 1137.67L1434.56 1137.66L1436.06 1137.65L1437.56 1137.63L1439.06 1137.62L1440.55 1137.61L1442.05 1137.59L1443.55 1137.58L1445.05 1137.57L1446.55 1137.55L1448.05 1137.54L1449.55 1137.53L1451.05 1137.51L1452.54 1137.5L1454.04 1137.49L1455.54 1137.48L1457.04 1137.46L1458.54 1137.45L1460.04 1137.44L1461.54 1137.43L1463.04 1137.42L1464.53 1137.4L1466.03 1137.39L1467.53 1137.38L1469.03 1137.37L1470.53 1137.36L1472.03 1137.34L1473.53 1137.33L1475.03 1137.32L1476.52 1137.31L1478.02 1137.3L1479.52 1137.29L1481.02 1137.28L1482.52 1137.27L1484.02 1137.26L1485.52 1137.24L1487.02 1137.23L1488.51 1137.22L1490.01 1137.21L1491.51 1137.2L1493.01 1137.19L1494.51 1137.18L1496.01 1137.17L1497.51 1137.16L1499.01 1137.15L1500.5 1137.14L1502 1137.13L1503.5 1137.12L1505 1137.11L1506.5 1137.1L1508 1137.09L1509.5 1137.08L1511 1137.07L1512.49 1137.07L1513.99 1137.06L1515.49 1137.05L1516.99 1137.04L1518.49 1137.03L1519.99 1137.02L1521.49 1137.01L1522.99 1137L1524.48 1137L1525.98 1136.99L1527.48 1136.98L1528.98 1136.97L1530.48 1136.96L1531.98 1136.95L1533.48 1136.95L1534.98 1136.94L1536.47 1136.93L1537.97 1136.92L1539.47 1136.91L1540.97 1136.91L1542.47 1136.9L1543.97 1136.89L1545.47 1136.88L1546.97 1136.88L1548.47 1136.87L1549.96 1136.86L1551.46 1136.86L1552.96 1136.85L1554.46 1136.84L1555.96 1136.84L1557.46 1136.83L1558.96 1136.82L1560.46 1136.82L1561.95 1136.81L1563.45 1136.8L1564.95 1136.8L1566.45 1136.79L1567.95 1136.79L1569.45 1136.78L1570.95 1136.77L1572.45 1136.77L1573.94 1136.76L1575.44 1136.76L1576.94 1136.75L1578.44 1136.74L1579.94 1136.74L1581.44 1136.73L1582.94 1136.73L1584.44 1136.72L1585.93 1136.72L1587.43 1136.71L1588.93 1136.71L1590.43 1136.7L1591.93 1136.7L1593.43 1136.69L1594.93 1136.69L1596.43 1136.69L1597.93 1136.68L1599.42 1136.68L1600.92 1136.67L1602.42 1136.67L1603.92 1136.66L1605.42 1136.66L1606.92 1136.66L1608.42 1136.65L1609.92 1136.65L1611.41 1136.65L1612.91 1136.64L1614.41 1136.64L1615.91 1136.63L1617.41 1136.63L1618.91 1136.63L1620.41 1136.62L1621.91 1136.62L1623.4 1136.62L1624.9 1136.62L1626.4 1136.61L1627.9 1136.61L1629.4 1136.61L1630.9 1136.6L1632.4 1136.6L1633.9 1136.6L1635.4 1136.6L1636.89 1136.59L1638.39 1136.59L1639.89 1136.59L1641.39 1136.59L1642.89 1136.59L1644.39 1136.58L1645.89 1136.58L1647.39 1136.58L1648.88 1136.58L1650.38 1136.58L1651.88 1136.58L1653.38 1136.57L1654.88 1136.57L1656.38 1136.57L1657.88 1136.57L1659.38 1136.57L1660.88 1136.57L1662.37 1136.57L1663.87 1136.57L1665.37 1136.57L1666.87 1136.57L1668.37 1136.56L1669.87 1136.56L1671.37 1136.56L1672.87 1136.56L1674.36 1136.56L1675.86 1136.56L1677.36 1136.56L1678.86 1136.56L1680.36 1136.56L1681.86 1136.56L1683.36 1136.56L1684.86 1136.56L1686.36 1136.56L1687.85 1136.56L1689.35 1136.56L1690.85 1136.56L1692.35 1136.56L1693.85 1136.57L1695.35 1136.57L1696.85 1136.57L1698.35 1136.57L1699.84 1136.57L1701.34 1136.57L1702.84 1136.57L1704.34 1136.57L1705.84 1136.57L1707.34 1136.58L1708.84 1136.58L1710.34 1136.58L1711.84 1136.58L1713.33 1136.58L1714.83 1136.58L1716.33 1136.58L1717.83 1136.59L1719.33 1136.59L1720.83 1136.59L1722.33 1136.59L1723.83 1136.6L1725.32 1136.6L1726.82 1136.6L1728.32 1136.6L1729.82 1136.6L1731.32 1136.61L1732.82 1136.61L1734.32 1136.61L1735.82 1136.62L1737.32 1136.62L1738.81 1136.62L1740.31 1136.62L1741.81 1136.63L1743.31 1136.63L1744.81 1136.63L1746.31 1136.64L1747.81 1136.64L1749.31 1136.64L1750.8 1136.65L1752.3 1136.65L1753.8 1136.65L1755.3 1136.66L1756.8 1136.66L1758.3 1136.67L1759.8 1136.67L1761.3 1136.67L1762.8 1136.68L1764.29 1136.68L1765.79 1136.69L1767.29 1136.69L1768.79 1136.7L1770.29 1136.7L1771.79 1136.7L1773.29 1136.71L1774.79 1136.71L1776.29 1136.72L1777.78 1136.72L1779.28 1136.73L1780.78 1136.73L1782.28 1136.74L1783.78 1136.74L1785.28 1136.75L1786.78 1136.75L1788.28 1136.76L1789.77 1136.77L1791.27 1136.77L1792.77 1136.78L1794.27 1136.78L1795.77 1136.79L1797.27 1136.79L1798.77 1136.8L1800.27 1136.81L1801.77 1136.81L1803.26 1136.82L1804.76 1136.82L1806.26 1136.83L1807.76 1136.84L1809.26 1136.84L1810.76 1136.85L1812.26 1136.86L1813.76 1136.86L1815.26 1136.87L1816.75 1136.88L1818.25 1136.88L1819.75 1136.89L1821.25 1136.9L1822.75 1136.9L1824.25 1136.91L1825.75 1136.92L1827.25 1136.92L1828.74 1136.93L1830.24 1136.94L1831.74 1136.95L1833.24 1136.95L1834.74 1136.96L1836.24 1136.97L1837.74 1136.98L1839.24 1136.99L1840.74 1136.99L1842.23 1137L1843.73 1137.01L1845.23 1137.02L1846.73 1137.03L1848.23 1137.03L1849.73 1137.04L1851.23 1137.05L1852.73 1137.06L1854.23 1137.07L1855.72 1137.08L1857.22 1137.08L1858.72 1137.09L1860.22 1137.1L1861.72 1137.11L1863.22 1137.12L1864.72 1137.13L1866.22 1137.14L1867.72 1137.15L1869.21 1137.16L1870.71 1137.16L1872.21 1137.17L1873.71 1137.18L1875.21 1137.19L1876.71 1137.2L1878.21 1137.21L1879.71 1137.22L1881.2 1137.23L1882.7 1137.24L1884.2 1137.25L1885.7 1137.26L1887.2 1137.27L1888.7 1137.28L1890.2 1137.29L1891.7 1137.3" stroke-dasharray="39.72 39.72" stroke-dashoffset="71.96"/>
</g>
<rect x="169.84" y="1148.9" width="27.4" height="27.4" fill="none" stroke="#D95319" stroke-width="10.3" stroke-linejoin="miter"/>
<rect x="208.4" y="1029" width="27.4" height="27.4" fill="none" stroke="#D95319" stroke-width="10.3" stroke-linejoin="miter"/>
<rect x="298.08" y="908.3" width="27.4" height="27.4" fill="none" stroke="#D95319" stroke-width="10.3" stroke-linejoin="miter"/>
<rect x="381.11" y="973.3" width="27.4" height="27.4" fill="none" stroke="#D95319" stroke-width="10.3" stroke-linejoin="miter"/>
<rect x="481.87" y="1040.4" width="27.4" height="27.4" fill="none" stroke="#D95319" stroke-width="10.3" stroke-linejoin="miter"/>
<rect x="602.48" y="1120.2" width="27.4" height="27.4" fill="none" stroke="#D95319" stroke-width="10.3" stroke-linejoin="miter"/>
<rect x="801.12" y="1139.7" width="27.4" height="27.4" fill="none" stroke="#D95319" stroke-width="10.3" stroke-linejoin="miter"/>
<rect x="1042.67" y="1130.5" width="27.4" height="27.4" fill="none" stroke="#D95319" stroke-width="10.3" stroke-linejoin="miter"/>
<rect x="1343.7" y="1124.8" width="27.4" height="27.4" fill="none" stroke="#D95319" stroke-width="10.3" stroke-linejoin="miter"/>
<rect x="1681.74" y="1122.9" width="27.4" height="27.4" fill="none" stroke="#D95319" stroke-width="10.3" stroke-linejoin="miter"/>
</g>
<g stroke="#EDB120" stroke-width="10.3" stroke-linejoin="round">
<g clip-path="url(#axclip)">
<path d="M183.54 1162.6L184.44 1161.34L185.31 1160.08L186.17 1158.81L187 1157.52L187.81 1156.24L188.6 1154.94L189.37 1153.64L190.12 1152.33L190.85 1151.01L191.55 1149.69L192.24 1148.36L192.92 1147.02L193.57 1145.68L194.2 1144.33L194.82 1142.97L195.42 1141.61L196.01 1140.25L196.57 1138.87L197.12 1137.49L197.66 1136.11L198.18 1134.72L198.68 1133.32L199.17 1131.92L199.65 1130.52L200.11 1129.11L200.56 1127.69L200.99 1126.27L201.42 1124.85L201.83 1123.42L202.22 1121.99L202.61 1120.56L202.99 1119.12L203.35 1117.67L203.7 1116.22L204.05 1114.77L204.38 1113.32L204.7 1111.86L205.02 1110.4L205.33 1108.94L205.62 1107.47L205.91 1106L206.2 1104.53L206.47 1103.06L206.74 1101.58L207 1100.1L207.26 1098.62L207.51 1097.14L207.75 1095.66L207.99 1094.17L208.23 1092.69L208.46 1091.2L208.69 1089.71L208.91 1088.22L209.13 1086.73L209.35 1085.24L209.57 1083.74L209.78 1082.25L209.99 1080.76L210.2 1079.26L210.41 1077.77L210.62 1076.27L210.83 1074.78L211.04 1073.29L211.25 1071.79L211.46 1070.3L211.68 1068.81L211.89 1067.32L212.11 1065.83L212.32 1064.34L212.54 1062.85L212.77 1061.36L212.99 1059.88L213.22 1058.39L213.44 1056.91L213.67 1055.42L213.9 1053.94L214.14 1052.46L214.37 1050.97L214.61 1049.49L214.84 1048.01L215.08 1046.53L215.32 1045.05L215.57 1043.57L215.81 1042.1L216.05 1040.62L216.3 1039.14L216.55 1037.66L216.8 1036.19L217.05 1034.71L217.3 1033.24L217.55 1031.76L217.8 1030.29L218.06 1028.81L218.31 1027.34L218.57 1025.87L218.83 1024.39L219.08 1022.92L219.34 1021.45L219.6 1019.98L219.86 1018.51L220.12 1017.03L220.39 1015.56L220.65 1014.09L220.91 1012.62L221.18 1011.15L221.44 1009.68L221.71 1008.21L221.97 1006.74" stroke-dasharray="9.93 9.93" stroke-dashoffset="4.68"/>
<path d="M221.97 1006.74L222.24 1005.27L222.51 1003.8L222.77 1002.32L223.04 1000.85L223.31 999.38L223.58 997.91L223.85 996.44L224.11 994.97L224.38 993.5L224.65 992.03L224.92 990.56L225.19 989.08L225.46 987.61L225.73 986.14L226 984.67L226.26 983.2L226.53 981.72L226.8 980.25L227.07 978.78L227.34 977.3L227.6 975.83L227.87 974.35L228.14 972.88L228.41 971.4L228.67 969.92L228.94 968.45L229.2 966.97L229.47 965.49L229.73 964.02L230 962.54L230.26 961.06L230.53 959.58L230.79 958.1L231.06 956.62L231.33 955.14L231.59 953.67L231.86 952.19L232.13 950.71L232.39 949.23L232.66 947.75L232.93 946.27L233.2 944.79L233.47 943.31L233.74 941.83L234.02 940.35L234.29 938.87L234.56 937.39L234.84 935.91L235.12 934.44L235.39 932.96L235.67 931.48L235.95 930L236.24 928.52L236.52 927.05L236.8 925.57L237.09 924.09L237.38 922.62L237.67 921.14L237.96 919.67L238.26 918.19L238.55 916.72L238.85 915.25L239.15 913.77L239.45 912.3L239.76 910.83L240.06 909.36L240.37 907.89L240.69 906.42L241 904.95L241.32 903.49L241.64 902.02L241.96 900.55L242.28 899.09L242.61 897.63L242.94 896.16L243.27 894.7L243.61 893.24L243.95 891.78L244.29 890.32L244.64 888.86L244.99 887.41L245.34 885.95L245.69 884.5L246.05 883.04L246.42 881.59L246.78 880.14L247.15 878.69L247.53 877.24L247.9 875.79L248.29 874.35L248.67 872.91L249.06 871.46L249.45 870.02L249.85 868.58L250.25 867.14L250.66 865.71L251.07 864.27L251.48 862.84L251.9 861.41L252.32 859.98L252.75 858.55L253.19 857.12L253.62 855.69L254.06 854.27L254.51 852.85L254.96 851.43L255.42 850.01L255.88 848.59L256.35 847.18L256.82 845.77L257.3 844.36L257.78 842.95L258.27 841.54L258.76 840.14L259.26 838.73L259.76 837.33L260.27 835.94L260.79 834.54L261.31 833.15L261.84 831.75L262.37 830.36L262.91 828.97L263.46 827.59L264.01 826.2L264.57 824.82L265.13 823.44L265.7 822.06L266.28 820.68L266.86 819.31L267.45 817.93L268.05 816.56L268.66 815.19L269.27 813.82L269.89 812.45L270.51 811.09L271.15 809.72L271.79 808.36L272.44 807L273.09 805.64L273.76 804.28L274.43 802.92L275.11 801.57L275.8 800.21L276.5 798.86L277.21 797.51L277.93 796.17L278.68 794.82L279.44 793.48L280.22 792.15L281.02 790.81L281.84 789.49L282.69 788.17L283.57 786.85L284.48 785.54L285.42 784.24L286.39 782.94L287.4 781.66L288.43 780.39L289.5 779.16L290.59 777.95L291.71 776.79L292.86 775.67L294.03 774.61L295.23 773.61L296.44 772.68L297.68 771.82L298.94 771.04L300.21 770.35L301.51 769.73L302.81 769.19L304.14 768.73L305.48 768.34L306.83 768.02L308.19 767.78L309.57 767.6L310.95 767.49L312.34 767.44" stroke-dasharray="9.93 9.93" stroke-dashoffset="11.23"/>
<path d="M312.34 767.44L313.74 767.46L315.15 767.54L316.57 767.67L317.98 767.87L319.4 768.12L320.83 768.43L322.25 768.79L323.68 769.2L325.1 769.66L326.53 770.16L327.95 770.71L329.36 771.31L330.77 771.95L332.18 772.62L333.58 773.34L334.97 774.09L336.35 774.88L337.72 775.7L339.07 776.55L340.42 777.43L341.75 778.34L343.07 779.28L344.38 780.24L345.66 781.22L346.93 782.22L348.18 783.24L349.41 784.28L350.62 785.34L351.8 786.41L352.97 787.49L354.11 788.58L355.23 789.68L356.32 790.78L357.4 791.9L358.46 793.02L359.5 794.15L360.54 795.28L361.55 796.42L362.56 797.55L363.56 798.69L364.55 799.83L365.54 800.97L366.52 802.11L367.5 803.25L368.48 804.39L369.46 805.52L370.44 806.64L371.43 807.76L372.42 808.88L373.43 809.99L374.43 811.09L375.45 812.18L376.47 813.27L377.5 814.35L378.53 815.43L379.57 816.5L380.62 817.56L381.67 818.62L382.73 819.67L383.79 820.72L384.86 821.76L385.93 822.8L387.01 823.83L388.1 824.86L389.19 825.88L390.28 826.9L391.38 827.91L392.48 828.92L393.59 829.93L394.7 830.93" stroke-dasharray="9.93 9.93" stroke-dashoffset="13.51"/>
<path d="M394.7 830.93L395.81 831.92L396.93 832.92L398.06 833.91L399.18 834.89L400.31 835.87L401.45 836.85L402.58 837.83L403.72 838.8L404.86 839.77L406.01 840.74L407.16 841.7L408.31 842.66L409.46 843.62L410.62 844.58L411.77 845.54L412.93 846.49L414.09 847.44L415.26 848.39L416.42 849.34L417.59 850.29L418.75 851.23L419.92 852.18L421.09 853.12L422.26 854.06L423.43 855.01L424.61 855.95L425.78 856.89L426.95 857.83L428.12 858.77L429.3 859.71L430.47 860.65L431.64 861.59L432.81 862.53L433.99 863.47L435.16 864.41L436.33 865.36L437.5 866.3L438.67 867.24L439.83 868.19L441 869.14L442.16 870.09L443.33 871.04L444.49 871.99L445.65 872.94L446.8 873.9L447.96 874.85L449.11 875.81L450.26 876.77L451.41 877.74L452.56 878.71L453.7 879.68L454.84 880.65L455.98 881.62L457.11 882.6L458.24 883.58L459.37 884.57L460.49 885.56L461.61 886.55L462.72 887.55L463.84 888.55L464.94 889.55L466.05 890.56L467.14 891.57L468.24 892.59L469.33 893.61L470.41 894.64L471.49 895.67L472.56 896.71L473.63 897.75L474.7 898.8L475.75 899.85L476.81 900.91L477.85 901.97L478.89 903.04L479.93 904.11L480.96 905.19L481.98 906.28L483 907.37L484.01 908.47L485.02 909.57L486.02 910.68L487.02 911.79L488.01 912.9L488.99 914.02L489.98 915.15L490.95 916.28L491.92 917.42L492.89 918.56L493.85 919.7L494.81 920.85L495.76 922" stroke-dasharray="9.93 9.93" stroke-dashoffset="1.5"/>
<path d="M495.76 922L496.71 923.16L497.65 924.32L498.59 925.49L499.53 926.66L500.46 927.83L501.39 929.01L502.31 930.19L503.23 931.37L504.14 932.56L505.05 933.75L505.96 934.94L506.86 936.14L507.76 937.34L508.66 938.54L509.55 939.75L510.44 940.96L511.32 942.17L512.21 943.39L513.09 944.61L513.96 945.83L514.83 947.05L515.7 948.28L516.57 949.5L517.43 950.73L518.3 951.97L519.15 953.2L520.01 954.44L520.86 955.68L521.71 956.92L522.56 958.16L523.41 959.4L524.25 960.65L525.09 961.89L525.93 963.14L526.77 964.39L527.6 965.64L528.44 966.9L529.27 968.15L530.1 969.4L530.93 970.66L531.75 971.92L532.58 973.17L533.4 974.43L534.22 975.69L535.04 976.95L535.86 978.21L536.68 979.47L537.5 980.73L538.31 981.99L539.13 983.24L539.94 984.5L540.76 985.76L541.57 987.02L542.39 988.28L543.21 989.54L544.02 990.8L544.84 992.06L545.65 993.31L546.47 994.57L547.29 995.82L548.11 997.08L548.93 998.33L549.75 999.58L550.58 1000.83L551.4 1002.08L552.23 1003.32L553.06 1004.57L553.89 1005.81L554.72 1007.05L555.56 1008.29L556.4 1009.53L557.24 1010.76L558.08 1012L558.93 1013.23L559.78 1014.45L560.63 1015.68L561.49 1016.9L562.35 1018.12L563.21 1019.34L564.08 1020.55L564.95 1021.76L565.83 1022.97L566.71 1024.18L567.59 1025.38L568.48 1026.57L569.38 1027.77L570.28 1028.96L571.18 1030.14L572.09 1031.33L573.01 1032.5L573.93 1033.68L574.85 1034.85L575.79 1036.02L576.72 1037.18L577.67 1038.33L578.62 1039.49L579.58 1040.63L580.54 1041.78L581.51 1042.92L582.49 1044.05L583.47 1045.18L584.46 1046.3L585.46 1047.42L586.46 1048.53L587.48 1049.64L588.5 1050.74L589.52 1051.83L590.55 1052.92L591.6 1054.01L592.64 1055.09L593.7 1056.16L594.76 1057.22L595.82 1058.29L596.9 1059.34L597.98 1060.39L599.06 1061.43L600.16 1062.46L601.26 1063.49L602.36 1064.52L603.48 1065.53L604.6 1066.54L605.72 1067.54L606.85 1068.54L607.99 1069.53L609.13 1070.51L610.28 1071.48L611.44 1072.45L612.6 1073.41L613.77 1074.36L614.94 1075.3L616.12 1076.24" stroke-dasharray="9.93 9.93" stroke-dashoffset="12.08"/>
<path d="M616.12 1076.24L617.31 1077.17L618.5 1078.09L619.7 1079.01L620.9 1079.91L622.11 1080.81L623.32 1081.7L624.54 1082.58L625.77 1083.46L627 1084.32L628.23 1085.18L629.47 1086.03L630.72 1086.87L631.97 1087.7L633.23 1088.52L634.49 1089.34L635.76 1090.14L637.03 1090.94L638.3 1091.73L639.59 1092.51L640.87 1093.27L642.17 1094.03L643.46 1094.79L644.76 1095.53L646.07 1096.26L647.38 1096.98L648.7 1097.69L650.02 1098.4L651.34 1099.09L652.67 1099.77L654 1100.45L655.34 1101.11L656.69 1101.76L658.03 1102.41L659.38 1103.04L660.74 1103.66L662.1 1104.28L663.46 1104.88L664.83 1105.48L666.2 1106.06L667.57 1106.64L668.95 1107.21L670.34 1107.77L671.72 1108.32L673.11 1108.86L674.51 1109.4L675.9 1109.92L677.3 1110.44L678.71 1110.95L680.11 1111.45L681.52 1111.94L682.93 1112.43L684.35 1112.91L685.77 1113.38L687.19 1113.85L688.62 1114.3L690.04 1114.75L691.47 1115.2L692.91 1115.63L694.34 1116.06L695.78 1116.49L697.22 1116.91L698.66 1117.32L700.11 1117.72L701.56 1118.12L703 1118.52L704.46 1118.91L705.91 1119.29L707.37 1119.67L708.82 1120.04L710.28 1120.4L711.74 1120.77L713.21 1121.12L714.67 1121.48L716.14 1121.83L717.6 1122.17L719.07 1122.51L720.54 1122.84L722.02 1123.17L723.49 1123.5L724.96 1123.83L726.44 1124.15L727.91 1124.46L729.39 1124.78L730.87 1125.09L732.35 1125.39L733.83 1125.7L735.31 1126L736.79 1126.29L738.27 1126.59L739.75 1126.88L741.24 1127.17L742.72 1127.46L744.2 1127.75L745.69 1128.03L747.17 1128.32L748.65 1128.6L750.14 1128.88L751.62 1129.16L753.11 1129.43L754.59 1129.71L756.07 1129.98L757.56 1130.26L759.04 1130.53L760.52 1130.8L762.01 1131.08L763.49 1131.35L764.97 1131.62L766.45 1131.89L767.93 1132.16L769.41 1132.43L770.88 1132.71L772.36 1132.98L773.84 1133.25L775.31 1133.52L776.79 1133.79L778.26 1134.06L779.74 1134.33L781.21 1134.6L782.68 1134.87L784.15 1135.13L785.63 1135.4L787.1 1135.66L788.57 1135.92L790.04 1136.18L791.51 1136.43L792.98 1136.68L794.45 1136.93L795.92 1137.17L797.39 1137.41L798.87 1137.65L800.34 1137.89L801.81 1138.12L803.28 1138.34L804.75 1138.56L806.22 1138.78L807.7 1138.99L809.17 1139.2L810.64 1139.4L812.12 1139.59L813.59 1139.78L815.07 1139.96" stroke-dasharray="9.93 9.93" stroke-dashoffset="18.02"/>
<path d="M815.07 1139.96L816.54 1140.14L818.02 1140.31L819.5 1140.47L820.98 1140.63L822.45 1140.78L823.93 1140.92L825.42 1141.06L826.9 1141.19L828.38 1141.31L829.87 1141.42L831.35 1141.52L832.84 1141.62L834.33 1141.7L835.82 1141.78L837.31 1141.85L838.8 1141.91L840.29 1141.96L841.79 1142L843.29 1142.03L844.79 1142.04L846.29 1142.05L847.79 1142.05L849.29 1142.04L850.8 1142.02L852.3 1141.98L853.81 1141.94L855.32 1141.89L856.83 1141.83L858.35 1141.76L859.86 1141.69L861.37 1141.6L862.89 1141.51L864.4 1141.42L865.92 1141.31L867.43 1141.2L868.95 1141.09L870.47 1140.97L871.98 1140.84L873.5 1140.72L875.01 1140.58L876.53 1140.45L878.04 1140.31L879.56 1140.17L881.07 1140.03L882.58 1139.88L884.09 1139.73L885.6 1139.59L887.11 1139.44L888.62 1139.29L890.13 1139.15L891.63 1139L893.14 1138.85L894.64 1138.7L896.14 1138.56L897.64 1138.41L899.14 1138.26L900.64 1138.12L902.14 1137.97L903.63 1137.83L905.13 1137.69L906.62 1137.54L908.12 1137.4L909.61 1137.26L911.1 1137.12L912.59 1136.98L914.08 1136.84L915.57 1136.71L917.06 1136.57L918.55 1136.44L920.04 1136.3L921.52 1136.17L923.01 1136.04L924.5 1135.91L925.98 1135.78L927.47 1135.66L928.95 1135.53L930.44 1135.41L931.92 1135.29L933.41 1135.17L934.89 1135.05L936.38 1134.94L937.86 1134.82L939.35 1134.71L940.83 1134.6L942.31 1134.5L943.8 1134.39L945.28 1134.29L946.77 1134.19L948.25 1134.09L949.74 1134L951.22 1133.9L952.71 1133.81L954.2 1133.72L955.68 1133.64L957.17 1133.56L958.66 1133.48L960.15 1133.4L961.63 1133.33L963.12 1133.26L964.61 1133.19L966.11 1133.13L967.6 1133.06L969.09 1133.01L970.58 1132.95L972.08 1132.9L973.57 1132.85L975.07 1132.81L976.56 1132.77L978.06 1132.73L979.56 1132.7L981.06 1132.67L982.56 1132.64L984.06 1132.62L985.57 1132.6L987.07 1132.59L988.58 1132.58L990.09 1132.57L991.59 1132.57L993.1 1132.57L994.61 1132.59L996.12 1132.6L997.63 1132.63L999.14 1132.66L1000.65 1132.7L1002.16 1132.75L1003.67 1132.8L1005.18 1132.87L1006.69 1132.94L1008.19 1133.03L1009.7 1133.12L1011.2 1133.23L1012.7 1133.35L1014.2 1133.48L1015.7 1133.62L1017.19 1133.78L1018.69 1133.95L1020.18 1134.13L1021.67 1134.33L1023.15 1134.54L1024.63 1134.77L1026.11 1135.01L1027.59 1135.27L1029.06 1135.55L1030.53 1135.84L1031.99 1136.14L1033.45 1136.46L1034.91 1136.79L1036.37 1137.13L1037.82 1137.47L1039.28 1137.82L1040.73 1138.17L1042.19 1138.52L1043.64 1138.87L1045.09 1139.22L1046.55 1139.56L1048.01 1139.9L1049.46 1140.22L1050.92 1140.53L1052.39 1140.83L1053.85 1141.12L1055.32 1141.39L1056.79 1141.64" stroke-dasharray="9.93 9.93" stroke-dashoffset="12.07"/>
<path d="M1056.79 1141.64L1058.27 1141.87L1059.75 1142.08L1061.24 1142.27L1062.72 1142.44L1064.21 1142.6L1065.71 1142.74L1067.2 1142.86L1068.7 1142.97L1070.2 1143.07L1071.7 1143.16L1073.2 1143.23L1074.71 1143.3L1076.21 1143.35L1077.72 1143.39L1079.23 1143.43L1080.74 1143.46L1082.24 1143.48L1083.75 1143.5L1085.26 1143.51L1086.76 1143.52L1088.27 1143.52L1089.77 1143.52L1091.28 1143.52L1092.78 1143.51L1094.29 1143.49L1095.79 1143.48L1097.3 1143.46L1098.8 1143.43L1100.3 1143.41L1101.8 1143.38L1103.31 1143.34L1104.81 1143.3L1106.31 1143.26L1107.81 1143.22L1109.31 1143.17L1110.81 1143.12L1112.31 1143.07L1113.81 1143.01L1115.31 1142.96L1116.81 1142.9L1118.31 1142.83L1119.81 1142.77L1121.3 1142.7L1122.8 1142.63L1124.3 1142.56L1125.8 1142.49L1127.29 1142.41L1128.79 1142.34L1130.29 1142.26L1131.78 1142.18L1133.28 1142.1L1134.78 1142.01L1136.27 1141.93L1137.77 1141.84L1139.27 1141.76L1140.76 1141.67L1142.26 1141.58L1143.75 1141.49L1145.25 1141.4L1146.74 1141.31L1148.24 1141.22L1149.73 1141.13L1151.23 1141.04L1152.72 1140.95L1154.22 1140.86L1155.71 1140.77L1157.21 1140.68L1158.7 1140.59L1160.2 1140.49L1161.69 1140.4L1163.18 1140.31L1164.68 1140.23L1166.17 1140.14L1167.67 1140.05L1169.16 1139.96L1170.66 1139.88L1172.15 1139.79L1173.65 1139.71L1175.14 1139.62L1176.64 1139.54L1178.13 1139.46L1179.63 1139.39L1181.12 1139.31L1182.62 1139.23L1184.11 1139.16L1185.61 1139.09L1187.1 1139.02L1188.6 1138.95L1190.09 1138.89L1191.59 1138.82L1193.09 1138.76L1194.58 1138.7L1196.08 1138.64L1197.57 1138.58L1199.07 1138.52L1200.57 1138.47L1202.06 1138.41L1203.56 1138.36L1205.06 1138.31L1206.55 1138.26L1208.05 1138.21L1209.55 1138.17L1211.04 1138.12L1212.54 1138.08L1214.04 1138.04L1215.53 1137.99L1217.03 1137.95L1218.53 1137.92L1220.03 1137.88L1221.52 1137.84L1223.02 1137.81L1224.52 1137.77L1226.02 1137.74L1227.51 1137.71L1229.01 1137.68L1230.51 1137.65L1232.01 1137.62L1233.51 1137.6L1235 1137.57L1236.5 1137.55L1238 1137.52L1239.5 1137.5L1241 1137.48L1242.5 1137.46L1243.99 1137.44L1245.49 1137.42L1246.99 1137.4L1248.49 1137.39L1249.99 1137.37L1251.49 1137.36L1252.99 1137.34L1254.48 1137.33L1255.98 1137.31L1257.48 1137.3L1258.98 1137.29L1260.48 1137.28L1261.98 1137.27L1263.48 1137.26L1264.98 1137.25L1266.48 1137.25L1267.98 1137.24L1269.48 1137.23L1270.98 1137.23L1272.48 1137.22L1273.97 1137.22L1275.47 1137.21L1276.97 1137.21L1278.47 1137.2L1279.97 1137.2L1281.47 1137.2L1282.97 1137.2L1284.47 1137.19L1285.97 1137.19L1287.47 1137.19L1288.97 1137.19L1290.47 1137.19L1291.97 1137.19L1293.47 1137.19L1294.97 1137.19L1296.47 1137.19L1297.97 1137.19L1299.47 1137.2L1300.97 1137.2L1302.47 1137.2L1303.97 1137.2L1305.47 1137.2L1306.97 1137.2L1308.47 1137.21L1309.97 1137.21L1311.47 1137.21L1312.97 1137.21L1314.47 1137.22L1315.97 1137.22L1317.47 1137.22L1318.97 1137.22L1320.47 1137.22L1321.97 1137.23L1323.47 1137.23L1324.97 1137.23L1326.47 1137.23L1327.97 1137.23L1329.47 1137.23L1330.97 1137.23L1332.47 1137.23L1333.97 1137.24L1335.47 1137.24L1336.97 1137.24L1338.47 1137.24L1339.97 1137.23L1341.47 1137.23L1342.97 1137.23L1344.47 1137.23L1345.97 1137.23L1347.47 1137.22L1348.97 1137.22L1350.47 1137.22L1351.98 1137.21L1353.48 1137.21L1354.98 1137.2L1356.48 1137.2L1357.98 1137.19" stroke-dasharray="9.93 9.93" stroke-dashoffset="17.64"/>
<path d="M1357.98 1137.19L1359.48 1137.18L1360.98 1137.18L1362.48 1137.17L1363.97 1137.16L1365.47 1137.15L1366.97 1137.14L1368.47 1137.13L1369.97 1137.12L1371.47 1137.11L1372.97 1137.1L1374.47 1137.08L1375.97 1137.07L1377.47 1137.06L1378.97 1137.04L1380.47 1137.03L1381.97 1137.02L1383.47 1137L1384.97 1136.99L1386.47 1136.97L1387.97 1136.95L1389.47 1136.94L1390.97 1136.92L1392.47 1136.9L1393.97 1136.88L1395.47 1136.87L1396.97 1136.85L1398.47 1136.83L1399.97 1136.81L1401.47 1136.79L1402.97 1136.77L1404.47 1136.75L1405.97 1136.73L1407.47 1136.71L1408.96 1136.69L1410.46 1136.67L1411.96 1136.64L1413.46 1136.62L1414.96 1136.6L1416.46 1136.58L1417.96 1136.56L1419.46 1136.53L1420.96 1136.51L1422.46 1136.49L1423.96 1136.46L1425.46 1136.44L1426.96 1136.42L1428.46 1136.39L1429.95 1136.37L1431.45 1136.35L1432.95 1136.32L1434.45 1136.3L1435.95 1136.27L1437.45 1136.25L1438.95 1136.22L1440.45 1136.2L1441.95 1136.17L1443.45 1136.15L1444.95 1136.12L1446.45 1136.1L1447.94 1136.07L1449.44 1136.05L1450.94 1136.03L1452.44 1136L1453.94 1135.98L1455.44 1135.95L1456.94 1135.93L1458.44 1135.9L1459.94 1135.88L1461.44 1135.85L1462.94 1135.83L1464.43 1135.8L1465.93 1135.78L1467.43 1135.75L1468.93 1135.73L1470.43 1135.7L1471.93 1135.68L1473.43 1135.66L1474.93 1135.63L1476.43 1135.61L1477.93 1135.58L1479.42 1135.56L1480.92 1135.54L1482.42 1135.52L1483.92 1135.49L1485.42 1135.47L1486.92 1135.45L1488.42 1135.43L1489.92 1135.4L1491.42 1135.38L1492.91 1135.36L1494.41 1135.34L1495.91 1135.32L1497.41 1135.3L1498.91 1135.28L1500.41 1135.26L1501.91 1135.24L1503.41 1135.22L1504.91 1135.2L1506.4 1135.18L1507.9 1135.16L1509.4 1135.14L1510.9 1135.12L1512.4 1135.11L1513.9 1135.09L1515.4 1135.07L1516.9 1135.06L1518.39 1135.04L1519.89 1135.03L1521.39 1135.01L1522.89 1135L1524.39 1134.98L1525.89 1134.97L1527.39 1134.96L1528.89 1134.94L1530.39 1134.93L1531.88 1134.92L1533.38 1134.91L1534.88 1134.9L1536.38 1134.89L1537.88 1134.88L1539.38 1134.87L1540.88 1134.86L1542.38 1134.85L1543.87 1134.85L1545.37 1134.84L1546.87 1134.83L1548.37 1134.83L1549.87 1134.82L1551.37 1134.82L1552.87 1134.81L1554.37 1134.81L1555.87 1134.81L1557.36 1134.81L1558.86 1134.8L1560.36 1134.8L1561.86 1134.8L1563.36 1134.8L1564.86 1134.81L1566.36 1134.81L1567.86 1134.81L1569.35 1134.82L1570.85 1134.82L1572.35 1134.83L1573.85 1134.83L1575.35 1134.84L1576.85 1134.85L1578.35 1134.85L1579.85 1134.86L1581.35 1134.87L1582.84 1134.88L1584.34 1134.89L1585.84 1134.91L1587.34 1134.92L1588.84 1134.93L1590.34 1134.95L1591.84 1134.96L1593.34 1134.98L1594.84 1135L1596.33 1135.02L1597.83 1135.04L1599.33 1135.06L1600.83 1135.08L1602.33 1135.1L1603.83 1135.12L1605.33 1135.15L1606.83 1135.17L1608.33 1135.2L1609.83 1135.23L1611.32 1135.25L1612.82 1135.28L1614.32 1135.31L1615.82 1135.34L1617.32 1135.38L1618.82 1135.41L1620.32 1135.44L1621.82 1135.48L1623.32 1135.51L1624.82 1135.55L1626.32 1135.59L1627.81 1135.63L1629.31 1135.67L1630.81 1135.71L1632.31 1135.75L1633.81 1135.8L1635.31 1135.84L1636.81 1135.89L1638.31 1135.94L1639.81 1135.98L1641.31 1136.03L1642.81 1136.09L1644.31 1136.14L1645.8 1136.19L1647.3 1136.25L1648.8 1136.3L1650.3 1136.36L1651.8 1136.42L1653.3 1136.48L1654.8 1136.54L1656.3 1136.6L1657.8 1136.66L1659.3 1136.73L1660.8 1136.79L1662.3 1136.86L1663.8 1136.93L1665.3 1137L1666.8 1137.07L1668.29 1137.14L1669.79 1137.22L1671.29 1137.29L1672.79 1137.37L1674.29 1137.45L1675.79 1137.53L1677.29 1137.61L1678.79 1137.69L1680.29 1137.77L1681.79 1137.86L1683.29 1137.94L1684.79 1138.03L1686.29 1138.12L1687.79 1138.21L1689.29 1138.31L1690.79 1138.4L1692.29 1138.49L1693.79 1138.59L1695.29 1138.69" stroke-dasharray="9.93 9.93" stroke-dashoffset="0"/>
<path d="M1695.29 1138.69L1696.79 1138.79L1698.29 1138.89L1699.79 1138.99L1701.29 1139.1L1702.79 1139.2L1704.29 1139.31L1705.79 1139.42L1707.29 1139.53L1708.79 1139.64L1710.29 1139.75L1711.79 1139.86L1713.28 1139.97L1714.78 1140.08L1716.28 1140.19L1717.78 1140.31L1719.28 1140.42L1720.78 1140.54L1722.28 1140.65L1723.78 1140.77L1725.28 1140.88L1726.78 1141L1728.28 1141.11L1729.78 1141.22L1731.28 1141.34L1732.78 1141.45L1734.28 1141.57L1735.78 1141.68L1737.28 1141.79L1738.78 1141.9L1740.28 1142.02L1741.78 1142.13L1743.28 1142.24L1744.78 1142.35L1746.28 1142.45L1747.78 1142.56L1749.28 1142.67L1750.78 1142.77L1752.28 1142.88L1753.78 1142.98L1755.28 1143.08L1756.78 1143.18L1758.28 1143.28L1759.78 1143.37L1761.28 1143.47L1762.78 1143.56L1764.28 1143.65L1765.78 1143.74L1767.28 1143.83L1768.78 1143.91L1770.28 1143.99L1771.78 1144.07L1773.28 1144.15L1774.78 1144.23L1776.28 1144.3L1777.78 1144.37L1779.28 1144.44L1780.78 1144.5L1782.28 1144.57L1783.78 1144.62L1785.28 1144.68L1786.78 1144.73L1788.28 1144.79L1789.78 1144.83L1791.28 1144.88L1792.78 1144.92L1794.28 1144.95L1795.78 1144.99L1797.28 1145.02L1798.78 1145.05L1800.28 1145.07L1801.78 1145.09L1803.28 1145.1L1804.78 1145.12L1806.28 1145.12L1807.78 1145.13L1809.28 1145.13L1810.78 1145.12L1812.28 1145.11L1813.78 1145.1L1815.27 1145.08L1816.77 1145.06L1818.27 1145.03L1819.77 1145L1821.27 1144.96L1822.77 1144.92L1824.27 1144.88L1825.77 1144.82L1827.27 1144.77L1828.77 1144.71L1830.27 1144.64L1831.77 1144.57L1833.27 1144.49L1834.76 1144.41L1836.26 1144.32L1837.76 1144.23L1839.26 1144.13L1840.76 1144.02L1842.26 1143.91L1843.76 1143.8L1845.26 1143.67L1846.75 1143.54L1848.25 1143.41L1849.75 1143.27L1851.25 1143.12L1852.75 1142.97L1854.25 1142.81L1855.75 1142.64L1857.24 1142.47L1858.74 1142.29L1860.24 1142.1L1861.74 1141.91L1863.24 1141.71L1864.74 1141.5L1866.23 1141.29L1867.73 1141.07L1869.23 1140.84L1870.73 1140.6L1872.23 1140.36L1873.73 1140.11L1875.22 1139.85L1876.72 1139.59L1878.22 1139.31L1879.72 1139.03L1881.21 1138.74L1882.71 1138.45L1884.21 1138.14L1885.71 1137.83L1887.2 1137.51L1888.7 1137.18L1890.2 1136.84L1891.7 1136.5" stroke-dasharray="9.93 9.93" stroke-dashoffset="0"/>
</g>
<polygon points="183.54,1138.6 204.33,1174.6 162.76,1174.6" fill="none" stroke="#EDB120" stroke-width="10.3" stroke-linejoin="miter" stroke-miterlimit="10"/>
<polygon points="222.1,982.3 242.89,1018.3 201.32,1018.3" fill="none" stroke="#EDB120" stroke-width="10.3" stroke-linejoin="miter" stroke-miterlimit="10"/>
<polygon points="311.78,743.4 332.57,779.4 291,779.4" fill="none" stroke="#EDB120" stroke-width="10.3" stroke-linejoin="miter" stroke-miterlimit="10"/>
<polygon points="394.81,807 415.6,843 374.03,843" fill="none" stroke="#EDB120" stroke-width="10.3" stroke-linejoin="miter" stroke-miterlimit="10"/>
<polygon points="495.57,897.7 516.35,933.7 474.78,933.7" fill="none" stroke="#EDB120" stroke-width="10.3" stroke-linejoin="miter" stroke-miterlimit="10"/>
<polygon points="616.18,1052.3 636.96,1088.3 595.4,1088.3" fill="none" stroke="#EDB120" stroke-width="10.3" stroke-linejoin="miter" stroke-miterlimit="10"/>
<polygon points="814.82,1116 835.6,1152 794.03,1152" fill="none" stroke="#EDB120" stroke-width="10.3" stroke-linejoin="miter" stroke-miterlimit="10"/>
<polygon points="1056.37,1117.6 1077.15,1153.6 1035.58,1153.6" fill="none" stroke="#EDB120" stroke-width="10.3" stroke-linejoin="miter" stroke-miterlimit="10"/>
<polygon points="1357.4,1113.2 1378.19,1149.2 1336.62,1149.2" fill="none" stroke="#EDB120" stroke-width="10.3" stroke-linejoin="miter" stroke-miterlimit="10"/>
<polygon points="1695.44,1114.7 1716.22,1150.7 1674.65,1150.7" fill="none" stroke="#EDB120" stroke-width="10.3" stroke-linejoin="miter" stroke-miterlimit="10"/>
</g>
<g stroke="#7E2F8E" stroke-width="10.3" stroke-linejoin="round">
<g clip-path="url(#axclip)">
<path d="M191.04 1003.79L191.14 1002.29L191.23 1000.79L191.33 999.29L191.43 997.8L191.53 996.3L191.63 994.8L191.73 993.3L191.84 991.8L191.94 990.3L192.05 988.8L192.15 987.31L192.26 985.81L192.37 984.31L192.48 982.81L192.59 981.32L192.7 979.82L192.81 978.32L192.93 976.83L193.04 975.33L193.16 973.84L193.28 972.34L193.4 970.84L193.52 969.35L193.64 967.85L193.76 966.36L193.89 964.86L194.01 963.37L194.14 961.88L194.27 960.38L194.4 958.89"/>
<path d="M195.34 948.44L195.48 946.95L195.62 945.46L195.76 943.97L195.91 942.48L196.06 940.99L196.2 939.5L196.35 938.01L196.5 936.52L196.66 935.03L196.81 933.55L196.96 932.06L197.12 930.57L197.28 929.08"/>
<path d="M198.26 920.17L198.43 918.68L198.61 917.2L198.78 915.72L198.95 914.23L199.13 912.75L199.31 911.27L199.49 909.79L199.67 908.3L199.85 906.82L200.04 905.34L200.22 903.86L200.41 902.38L200.6 900.9L200.78 899.42L200.97 897.94L201.17 896.46L201.36 894.98L201.55 893.5L201.75 892.02L201.94 890.54L202.14 889.06L202.34 887.59L202.54 886.11L202.74 884.63L202.94 883.15L203.14 881.67L203.35 880.2L203.55 878.72"/>
<path d="M204.58 871.33L204.79 869.85L205 868.38L205.21 866.9L205.42 865.42L205.63 863.95L205.84 862.47L206.05 860.99L206.26 859.51L206.48 858.04L206.69 856.56L206.9 855.08L207.12 853.6L207.33 852.13L207.54 850.65L207.76 849.17"/>
<path d="M209.04 840.3L209.26 838.82L209.47 837.34L209.69 835.86L209.9 834.38L210.12 832.9L210.33 831.42L210.55 829.94L210.76 828.46L210.97 826.98L211.19 825.5L211.4 824.02L211.61 822.54L211.82 821.05L212.04 819.57L212.25 818.09L212.46 816.61L212.67 815.12L212.88 813.64L213.09 812.15L213.3 810.67L213.5 809.18L213.71 807.7L213.92 806.21L214.12 804.72L214.33 803.24L214.53 801.75L214.74 800.26"/>
<path d="M215.94 791.32L216.14 789.83L216.33 788.34L216.53 786.85L216.73 785.36L216.92 783.86L217.12 782.37L217.31 780.88L217.51 779.39L217.7 777.89L217.89 776.4L218.08 774.9L218.28 773.41L218.47 771.91"/>
<path d="M225.86 713.58L226.05 712.09L226.25 710.6L226.44 709.11L226.64 707.62L226.84 706.13L227.03 704.64L227.23 703.15L227.43 701.66L227.63 700.17L227.83 698.68L228.03 697.19L228.23 695.7L228.44 694.21"/>
<path d="M229.67 685.3L229.88 683.82L230.09 682.34L230.3 680.85L230.51 679.37L230.72 677.89L230.94 676.41L231.15 674.93L231.37 673.45L231.59 671.98L231.81 670.5L232.03 669.02L232.25 667.55L232.47 666.07L232.69 664.6L232.92 663.12L233.15 661.65L233.37 660.18L233.6 658.71L233.83 657.24L234.07 655.77L234.3 654.3L234.53 652.84L234.77 651.37L235.01 649.9L235.25 648.44L235.49 646.98L235.73 645.51"/>
<path d="M237.48 635.3L237.73 633.85L237.99 632.39L238.25 630.93L238.51 629.48L238.77 628.03L239.04 626.57L239.3 625.12L239.57 623.66L239.84 622.21L240.11 620.76L240.38 619.31L240.65 617.85L240.93 616.4"/>
<path d="M242.89 606.22L243.18 604.77L243.47 603.31L243.76 601.85L244.05 600.4L244.35 598.94L244.64 597.48L244.94 596.02L245.24 594.56L245.54 593.1L245.84 591.63L246.14 590.17L246.44 588.71L246.75 587.24L247.06 585.77L247.37 584.31L247.68 582.84L247.99 581.37L248.3 579.89L248.62 578.42L248.93 576.95L249.25 575.47L249.57 573.99L249.89 572.51L250.21 571.03L250.54 569.55L250.86 568.06"/>
<path d="M253.18 557.61L253.52 556.11L253.86 554.6L254.2 553.1L254.54 551.59L254.88 550.08L255.23 548.56L255.57 547.05L255.92 545.53L256.27 544L256.62 542.48L256.97 540.95L257.32 539.42"/>
<path d="M259.89 528.67L260.28 527.14L260.69 525.62L261.1 524.09L261.53 522.58L261.97 521.07L262.42 519.57L262.89 518.08L263.38 516.59L263.88 515.12L264.4 513.66L264.94 512.21L265.51 510.78L266.09 509.36L266.7 507.95L267.33 506.56L267.99 505.19L268.68 503.83L269.39 502.49L270.13 501.17L270.9 499.88L271.7 498.6L272.53 497.35L273.4 496.12L274.3 494.91L275.24 493.73L276.21 492.58L277.22 491.45"/>
<path d="M284.03 485.35L285.27 484.48L286.54 483.65L287.82 482.88L289.12 482.16L290.43 481.5L291.76 480.9L293.1 480.37L294.44 479.9L295.79 479.51L297.14 479.19L298.49 478.95L299.83 478.79L301.17 478.71L302.51 478.71L303.84 478.78L305.16 478.93L306.48 479.15L307.78 479.43L309.08 479.79L310.37 480.2L311.65 480.68"/>
<path d="M335.7 502.78L336.55 504.12L337.36 505.47L338.15 506.83L338.92 508.2L339.67 509.59L340.39 510.98L341.1 512.39L341.79 513.8L342.46 515.22L343.11 516.65L343.74 518.09L344.37 519.53L344.98 520.98L345.57 522.43L346.16 523.88L346.73 525.34L347.3 526.8L347.85 528.26L348.4 529.72L348.95 531.18L349.48 532.64L350.02 534.1L350.55 535.55L351.08 537.01L351.61 538.45L352.14 539.9L352.67 541.33L353.21 542.76L353.75 544.18"/>
<path d="M357.63 553.94L358.19 555.31L358.77 556.67L359.34 558.03L359.92 559.39L360.49 560.74L361.07 562.09L361.65 563.44L362.24 564.79L362.82 566.13L363.41 567.47L363.99 568.81L364.58 570.15"/>
<path d="M369.25 580.92L369.83 582.27L370.41 583.63L370.98 584.99L371.56 586.36L372.13 587.73L372.71 589.1L373.28 590.47L373.85 591.84L374.42 593.22L374.99 594.6L375.56 595.98L376.13 597.36L376.7 598.75L377.27 600.14L377.84 601.52L378.41 602.91L378.98 604.3L379.55 605.7L380.12 607.09L380.69 608.48L381.26 609.88L381.84 611.27L382.41 612.67L382.99 614.06L383.56 615.46L384.14 616.86"/>
<path d="M394.93 641.91L395.56 643.28L396.19 644.66L396.83 646.04L397.47 647.41L398.11 648.78L398.76 650.14L399.41 651.51L400.07 652.87L400.73 654.23L401.4 655.58L402.07 656.94L402.75 658.29L403.43 659.63L404.11 660.97L404.81 662.31L405.5 663.65L406.21 664.98L406.92 666.31L407.63 667.63L408.35 668.95L409.08 670.26L409.81 671.57L410.55 672.88L411.3 674.18L412.05 675.47L412.81 676.76L413.58 678.05L414.35 679.33L415.13 680.6L415.92 681.87L416.71 683.14L417.52 684.4L418.33 685.65L419.14 686.9"/>
<path d="M425.94 696.68L426.82 697.88L427.7 699.07L428.59 700.27L429.48 701.46L430.38 702.64L431.28 703.82L432.18 705L433.09 706.18L434 707.35L434.92 708.53L435.83 709.7L436.76 710.86"/>
<path d="M444.17 720.16L445.1 721.32L446.03 722.48L446.96 723.64L447.89 724.8L448.82 725.96L449.74 727.13L450.66 728.29L451.59 729.46L452.5 730.63L453.42 731.79L454.34 732.97L455.25 734.14L456.15 735.32L457.06 736.5L457.96 737.68L458.85 738.87L459.74 740.05L460.63 741.25L461.51 742.44L462.38 743.65L463.25 744.85L464.12 746.06L464.97 747.28L465.82 748.49L466.67 749.72L467.51 750.95"/>
<path d="M469.16 753.42L469.98 754.67L470.79 755.92L471.59 757.17L472.39 758.43L473.18 759.69L473.97 760.96L474.75 762.23L475.52 763.51L476.29 764.79L477.05 766.07L477.81 767.36L478.56 768.65L479.31 769.95L480.05 771.25L480.78 772.55L481.51 773.86L482.24 775.16L482.96 776.48"/>
<path d="M495.83 801.86L496.47 803.21L497.11 804.57L497.75 805.92L498.38 807.28L499.01 808.63L499.64 809.99L500.26 811.35L500.88 812.71L501.5 814.07L502.12 815.43L502.73 816.8L503.34 818.16L503.95 819.53L504.56 820.89L505.16 822.26L505.76 823.63L506.36 824.99L506.96 826.36L507.55 827.73L508.15 829.1L508.74 830.48L509.33 831.85L509.91 833.22L510.5 834.6L511.08 835.97L511.66 837.35L512.24 838.72L512.82 840.1L513.4 841.48L513.98 842.86L514.55 844.23L515.12 845.61L515.69 846.99"/>
<path d="M520.22 858.06L520.78 859.44L521.34 860.83L521.9 862.21L522.45 863.6L523.01 864.99L523.57 866.37L524.12 867.76L524.68 869.15L525.23 870.54L525.79 871.93L526.34 873.32L526.9 874.71"/>
<path d="M531.32 885.84L531.88 887.23L532.43 888.62L532.98 890.01L533.54 891.4L534.09 892.8L534.64 894.19L535.2 895.58L535.75 896.98L536.31 898.37L536.87 899.76L537.42 901.16L537.98 902.55L538.54 903.94L539.1 905.34L539.66 906.73L540.22 908.12L540.78 909.51L541.35 910.91L541.91 912.3L542.47 913.69L543.04 915.09L543.61 916.48L544.18 917.87L544.75 919.27L545.32 920.66"/>
<path d="M549.94 931.79L550.53 933.18L551.12 934.57L551.71 935.96L552.3 937.35L552.89 938.74L553.49 940.13L554.09 941.51L554.69 942.9L555.29 944.29L555.89 945.67L556.5 947.05L557.11 948.44"/>
<path d="M561.44 958.09L562.07 959.47L562.71 960.84L563.34 962.21L563.98 963.58L564.62 964.95L565.27 966.32L565.91 967.68L566.56 969.05L567.22 970.41L567.87 971.77L568.53 973.13L569.19 974.48L569.86 975.84L570.53 977.19L571.2 978.54L571.88 979.89L572.56 981.23L573.24 982.58L573.93 983.92L574.62 985.26L575.31 986.59L576.01 987.93L576.71 989.26L577.42 990.58L578.12 991.91L578.84 993.23L579.55 994.55L580.28 995.87L581 997.19L581.73 998.5L582.46 999.81L583.2 1001.11L583.94 1002.42L584.69 1003.72L585.44 1005.01L586.19 1006.31L586.95 1007.59L587.71 1008.88L588.48 1010.16L589.25 1011.44"/>
<path d="M594.79 1020.3L595.6 1021.55L596.42 1022.79L597.24 1024.04L598.07 1025.27L598.9 1026.51L599.73 1027.74L600.57 1028.96L601.42 1030.18L602.27 1031.4L603.13 1032.61L603.99 1033.82L604.86 1035.02L605.73 1036.22L606.61 1037.41L607.5 1038.6L608.39 1039.79L609.28 1040.97L610.18 1042.14L611.09 1043.31L612 1044.48L612.92 1045.64L613.85 1046.79L614.78 1047.94L615.72 1049.08L616.66 1050.22"/>
<path d="M636.86 1071.82L637.94 1072.84L639.03 1073.85L640.13 1074.85L641.23 1075.85L642.34 1076.84L643.46 1077.82L644.58 1078.8L645.71 1079.77L646.85 1080.73L648 1081.69L649.15 1082.64L650.31 1083.58L651.48 1084.52L652.66 1085.45L653.84 1086.37L655.04 1087.28L656.24 1088.19L657.44 1089.09L658.66 1089.98L659.88 1090.86L661.12 1091.74L662.36 1092.61L663.6 1093.47L664.86 1094.33L666.12 1095.17L667.4 1096.01L668.68 1096.84"/>
<path d="M676.51 1101.68L677.84 1102.47L679.17 1103.24L680.5 1104.02L681.84 1104.79L683.18 1105.55L684.52 1106.32L685.87 1107.07L687.21 1107.83L688.56 1108.58L689.91 1109.33L691.26 1110.07L692.6 1110.82L693.95 1111.56L695.29 1112.3L696.64 1113.04"/>
<path d="M703.3 1116.74L704.62 1117.48L705.93 1118.23L707.24 1118.97L708.55 1119.71L709.85 1120.45L711.15 1121.19L712.45 1121.93L713.75 1122.66L715.04 1123.39L716.34 1124.12L717.63 1124.85L718.92 1125.57L720.21 1126.29L721.51 1127L722.8 1127.7L724.1 1128.4L725.4 1129.1L726.69 1129.78L728 1130.46L729.3 1131.14L730.61 1131.8L731.93 1132.45L733.24 1133.1L734.57 1133.73L735.89 1134.36L737.23 1134.97"/>
<path d="M746.76 1138.94L748.16 1139.45L749.56 1139.95L750.97 1140.44L752.39 1140.91L753.82 1141.37L755.25 1141.81L756.69 1142.25L758.13 1142.67L759.58 1143.08L761.04 1143.48L762.49 1143.86L763.95 1144.24L765.42 1144.6L766.88 1144.95L768.35 1145.29L769.82 1145.63L771.29 1145.95L772.76 1146.26L774.23 1146.57L775.7 1146.86L777.17 1147.15L778.64 1147.42L780.11 1147.69"/>
<path d="M183.54 1162.6L183.61 1161.11L183.68 1159.62L183.75 1158.13L183.82 1156.64L183.89 1155.16L183.96 1153.67L184.02 1152.18L184.09 1150.68L184.16 1149.19L184.22 1147.7L184.29 1146.21L184.36 1144.72L184.42 1143.23L184.49 1141.73L184.55 1140.24L184.62 1138.75L184.68 1137.26L184.75 1135.76L184.81 1134.27L184.87 1132.77L184.94 1131.28L185 1129.78L185.06 1128.29L185.13 1126.79L185.19 1125.3L185.25 1123.8L185.32 1122.31L185.38 1120.81L185.44 1119.32L185.5 1117.82L185.57 1116.32L185.63 1114.83L185.69 1113.33L185.75 1111.83L185.82 1110.33L185.88 1108.84L185.94 1107.34L186 1105.84L186.07 1104.34L186.13 1102.84L186.19 1101.34L186.25 1099.85L186.32 1098.35L186.38 1096.85L186.44 1095.35L186.51 1093.85L186.57 1092.35L186.63 1090.85L186.7 1089.35L186.76 1087.85L186.82 1086.35L186.89 1084.85L186.95 1083.35L187.02 1081.85L187.08 1080.35L187.15 1078.85L187.21 1077.35L187.28 1075.85L187.34 1074.35L187.41 1072.84L187.48 1071.34L187.54 1069.84L187.61 1068.34L187.68 1066.84L187.75 1065.34L187.82 1063.84L187.89 1062.34L187.96 1060.83L188.03 1059.33L188.1 1057.83L188.17 1056.33L188.24 1054.83L188.31 1053.33L188.38 1051.83L188.45 1050.32L188.53 1048.82L188.6 1047.32L188.68 1045.82L188.75 1044.32L188.83 1042.82L188.9 1041.31L188.98 1039.81L189.06 1038.31L189.13 1036.81L189.21 1035.31L189.29 1033.81L189.37 1032.3L189.45 1030.8L189.53 1029.3L189.62 1027.8L189.7 1026.3L189.78 1024.8L189.87 1023.3L189.95 1021.8L190.04 1020.3L190.13 1018.8L190.21 1017.29L190.3 1015.79L190.39 1014.29L190.48 1012.79L190.57 1011.29L190.66 1009.79L190.76 1008.29L190.85 1006.79L190.94 1005.29L191.04 1003.79" stroke-dasharray="39.72 9.93 19.86 9.93" stroke-dashoffset="0"/>
<path d="M787.48 1148.89L788.96 1149.1L790.44 1149.3L791.91 1149.5L793.39 1149.69L794.87 1149.87L796.34 1150.04L797.82 1150.21L799.3 1150.37L800.78 1150.51L802.26 1150.66L803.74 1150.79L805.22 1150.92L806.71 1151.04L808.19 1151.15L809.67 1151.26L811.15 1151.35L812.64 1151.45L814.12 1151.53L815.6 1151.61L817.09 1151.68L818.57 1151.75L820.06 1151.81L821.54 1151.86L823.03 1151.91L824.52 1151.95L826 1151.98L827.49 1152.01L828.98 1152.04L830.47 1152.05L831.96 1152.07L833.45 1152.07L834.93 1152.07L836.42 1152.07L837.91 1152.06L839.4 1152.05L840.9 1152.03L842.39 1152.01L843.88 1151.98L845.37 1151.95L846.86 1151.91L848.35 1151.87L849.85 1151.83L851.34 1151.78L852.83 1151.73L854.33 1151.67L855.82 1151.61L857.31 1151.55L858.81 1151.48L860.3 1151.41L861.8 1151.33L863.29 1151.25L864.79 1151.17L866.28 1151.09L867.78 1151L869.28 1150.91L870.77 1150.82L872.27 1150.72L873.77 1150.63L875.26 1150.53L876.76 1150.42L878.26 1150.32L879.75 1150.21L881.25 1150.1L882.75 1149.99L884.25 1149.88L885.75 1149.77L887.25 1149.65L888.74 1149.53L890.24 1149.41L891.74 1149.29L893.24 1149.17L894.74 1149.05L896.24 1148.93L897.74 1148.8L899.24 1148.68L900.74 1148.56L902.24 1148.43L903.74 1148.3L905.24 1148.18L906.74 1148.05L908.24 1147.92L909.74 1147.8L911.24 1147.67L912.74 1147.54L914.24 1147.42L915.74 1147.29L917.25 1147.17L918.75 1147.04L920.25 1146.92L921.75 1146.8L923.25 1146.67L924.75 1146.55L926.25 1146.43L927.75 1146.31L929.26 1146.2L930.76 1146.08L932.26 1145.97L933.76 1145.86L935.26 1145.74L936.76 1145.64L938.26 1145.53L939.76 1145.42L941.27 1145.32L942.77 1145.22L944.27 1145.12L945.77 1145.03L947.27 1144.94L948.77 1144.85L950.27 1144.76L951.77 1144.68L953.28 1144.59L954.78 1144.52L956.28 1144.44L957.78 1144.37L959.28 1144.3L960.78 1144.24L962.28 1144.18L963.78 1144.12L965.28 1144.07L966.78 1144.02L968.28 1143.98L969.78 1143.94L971.28 1143.9L972.78 1143.87L974.28 1143.84L975.78 1143.82L977.28 1143.8L978.78 1143.78L980.28 1143.77L981.78 1143.77L983.28 1143.77L984.78 1143.77L986.27 1143.77L987.77 1143.78L989.27 1143.8L990.77 1143.81L992.27 1143.83L993.77 1143.86L995.26 1143.88L996.76 1143.91L998.26 1143.95L999.76 1143.98L1001.25 1144.02L1002.75 1144.06L1004.25 1144.11L1005.75 1144.16L1007.24 1144.21L1008.74 1144.26L1010.24 1144.31L1011.73 1144.37L1013.23 1144.43L1014.73 1144.49L1016.22 1144.55L1017.72 1144.62L1019.22 1144.69L1020.71 1144.76L1022.21 1144.83L1023.71 1144.9L1025.2 1144.97L1026.7 1145.05L1028.19 1145.12L1029.69 1145.2L1031.19 1145.28L1032.68 1145.36L1034.18 1145.44L1035.67 1145.52L1037.17 1145.6L1038.66 1145.69L1040.16 1145.77L1041.65 1145.85L1043.15 1145.94L1044.64 1146.02L1046.14 1146.11L1047.63 1146.19L1049.13 1146.28L1050.62 1146.36L1052.12 1146.45L1053.61 1146.53L1055.11 1146.62L1056.6 1146.7L1058.1 1146.78L1059.59 1146.87L1061.09 1146.95L1062.58 1147.03L1064.08 1147.11L1065.57 1147.19L1067.07 1147.27L1068.56 1147.35L1070.05 1147.42L1071.55 1147.5L1073.04 1147.57L1074.54 1147.64L1076.03 1147.71L1077.52 1147.78L1079.02 1147.85L1080.51 1147.92L1082.01 1147.98L1083.5 1148.04L1084.99 1148.1L1086.49 1148.16L1087.98 1148.21L1089.48 1148.26L1090.97 1148.31L1092.46 1148.36L1093.96 1148.41L1095.45 1148.45L1096.95 1148.49L1098.44 1148.52L1099.93 1148.56L1101.43 1148.59L1102.92 1148.61L1104.42 1148.64L1105.91 1148.66L1107.4 1148.68L1108.9 1148.69L1110.39 1148.7L1111.88 1148.7L1113.38 1148.71L1114.87 1148.7L1116.37 1148.7L1117.86 1148.69L1119.35 1148.68L1120.85 1148.66L1122.34 1148.63L1123.84 1148.61L1125.33 1148.58L1126.82 1148.54L1128.32 1148.5L1129.81 1148.45L1131.31 1148.4L1132.8 1148.35L1134.29 1148.29L1135.79 1148.22L1137.28 1148.15L1138.78 1148.07L1140.27 1147.99L1141.76 1147.9L1143.26 1147.81L1144.75 1147.71L1146.25 1147.61L1147.74 1147.5L1149.24 1147.39L1150.73 1147.27L1152.22 1147.15L1153.72 1147.03L1155.21 1146.9L1156.71 1146.76L1158.2 1146.62L1159.7 1146.48L1161.19 1146.34L1162.69 1146.19L1164.18 1146.03L1165.68 1145.88L1167.17 1145.72L1168.66 1145.55L1170.16 1145.39L1171.65 1145.22L1173.15 1145.05L1174.64 1144.88L1176.14 1144.7L1177.63 1144.52L1179.13 1144.34L1180.62 1144.16L1182.12 1143.98L1183.61 1143.79L1185.11 1143.6L1186.6 1143.42L1188.1 1143.23L1189.59 1143.03L1191.09 1142.84L1192.58 1142.65L1194.08 1142.45L1195.57 1142.26L1197.06 1142.06L1198.56 1141.87L1200.05 1141.67L1201.55 1141.48L1203.04 1141.28L1204.54 1141.09L1206.03 1140.89L1207.53 1140.69L1209.02 1140.5L1210.52 1140.3L1212.01 1140.11L1213.51 1139.92L1215 1139.73L1216.5 1139.54L1217.99 1139.35L1219.49 1139.16L1220.98 1138.97L1222.48 1138.79L1223.97 1138.61L1225.46 1138.43L1226.96 1138.25L1228.45 1138.07L1229.95 1137.9L1231.44 1137.73L1232.94 1137.56L1234.43 1137.39L1235.93 1137.23L1237.42 1137.07L1238.92 1136.91L1240.41 1136.76L1241.9 1136.61L1243.4 1136.46L1244.89 1136.32L1246.39 1136.18L1247.88 1136.05L1249.38 1135.92L1250.87 1135.79L1252.37 1135.67L1253.86 1135.55L1255.35 1135.43L1256.85 1135.32L1258.34 1135.21L1259.84 1135.11L1261.33 1135.01L1262.82 1134.91L1264.32 1134.82L1265.81 1134.74L1267.31 1134.65L1268.8 1134.58L1270.29 1134.5L1271.79 1134.43L1273.28 1134.37L1274.78 1134.3L1276.27 1134.25L1277.77 1134.19L1279.26 1134.15L1280.75 1134.1L1282.25 1134.06L1283.74 1134.03L1285.24 1133.99L1286.73 1133.97L1288.22 1133.95L1289.72 1133.93L1291.21 1133.91L1292.71 1133.91L1294.2 1133.9L1295.7 1133.9L1297.19 1133.91L1298.68 1133.92L1300.18 1133.93L1301.67 1133.95L1303.17 1133.97L1304.66 1134L1306.16 1134.03L1307.65 1134.07L1309.15 1134.11L1310.64 1134.16L1312.14 1134.21L1313.63 1134.27L1315.13 1134.33L1316.62 1134.39L1318.12 1134.46L1319.61 1134.54L1321.11 1134.62L1322.6 1134.71L1324.1 1134.8L1325.59 1134.89L1327.09 1134.99L1328.58 1135.1L1330.08 1135.21L1331.57 1135.32L1333.07 1135.44L1334.56 1135.57L1336.06 1135.7L1337.56 1135.83L1339.05 1135.97L1340.55 1136.11L1342.04 1136.25L1343.54 1136.4L1345.03 1136.55L1346.53 1136.7L1348.03 1136.85L1349.52 1137.01L1351.02 1137.17L1352.51 1137.33L1354.01 1137.5L1355.51 1137.66L1357 1137.83L1358.5 1137.99L1360 1138.16L1361.49 1138.33L1362.99 1138.5L1364.48 1138.67L1365.98 1138.84L1367.48 1139.01L1368.97 1139.18L1370.47 1139.35L1371.97 1139.52L1373.46 1139.69L1374.96 1139.85L1376.45 1140.02L1377.95 1140.18L1379.45 1140.34L1380.94 1140.5L1382.44 1140.66L1383.93 1140.82L1385.43 1140.97L1386.93 1141.12L1388.42 1141.27L1389.92 1141.41L1391.41 1141.55L1392.91 1141.69L1394.4 1141.82L1395.9 1141.95L1397.4 1142.07L1398.89 1142.19L1400.39 1142.31L1401.88 1142.42L1403.38 1142.53L1404.87 1142.63L1406.37 1142.72L1407.86 1142.81L1409.36 1142.9L1410.85 1142.98L1412.35 1143.05L1413.84 1143.11L1415.34 1143.17L1416.83 1143.22L1418.33 1143.27L1419.82 1143.31L1421.31 1143.34L1422.81 1143.37L1424.3 1143.39L1425.8 1143.41L1427.29 1143.42L1428.78 1143.43L1430.28 1143.42L1431.77 1143.42L1433.26 1143.41L1434.76 1143.39L1436.25 1143.37L1437.74 1143.34L1439.24 1143.3L1440.73 1143.27L1442.22 1143.22L1443.72 1143.18L1445.21 1143.12L1446.7 1143.07L1448.2 1143L1449.69 1142.94L1451.18 1142.87L1452.68 1142.79L1454.17 1142.71L1455.66 1142.63L1457.15 1142.54L1458.65 1142.44L1460.14 1142.35L1461.63 1142.25L1463.12 1142.14L1464.61 1142.04L1466.11 1141.92L1467.6 1141.81L1469.09 1141.69L1470.58 1141.57L1472.08 1141.44L1473.57 1141.31L1475.06 1141.18L1476.55 1141.04L1478.04 1140.9L1479.53 1140.76L1481.03 1140.62L1482.52 1140.47L1484.01 1140.32L1485.5 1140.17L1486.99 1140.01L1488.48 1139.86L1489.98 1139.69L1491.47 1139.53L1492.96 1139.37L1494.45 1139.2L1495.94 1139.03L1497.43 1138.86L1498.92 1138.69L1500.42 1138.51L1501.91 1138.33L1503.4 1138.16L1504.89 1137.98L1506.38 1137.8L1507.87 1137.62L1509.36 1137.43L1510.85 1137.25L1512.35 1137.07L1513.84 1136.88L1515.33 1136.7L1516.82 1136.51L1518.31 1136.33L1519.8 1136.14L1521.29 1135.96L1522.78 1135.77L1524.28 1135.59L1525.77 1135.41L1527.26 1135.22L1528.75 1135.04L1530.24 1134.86L1531.73 1134.68L1533.22 1134.51L1534.71 1134.33L1536.2 1134.16L1537.7 1133.98L1539.19 1133.81L1540.68 1133.64L1542.17 1133.48L1543.66 1133.31L1545.15 1133.15L1546.64 1132.99L1548.14 1132.83L1549.63 1132.68L1551.12 1132.53L1552.61 1132.38L1554.1 1132.24L1555.59 1132.1L1557.08 1131.96L1558.58 1131.83L1560.07 1131.7L1561.56 1131.57L1563.05 1131.45L1564.54 1131.34L1566.03 1131.22L1567.53 1131.12L1569.02 1131.01L1570.51 1130.92L1572 1130.82L1573.5 1130.73L1574.99 1130.65L1576.48 1130.57L1577.97 1130.5L1579.46 1130.44L1580.96 1130.38L1582.45 1130.32L1583.94 1130.27L1585.43 1130.23L1586.93 1130.2L1588.42 1130.17L1589.91 1130.15L1591.41 1130.13L1592.9 1130.12L1594.39 1130.12L1595.88 1130.12L1597.38 1130.13L1598.87 1130.15L1600.36 1130.17L1601.86 1130.2L1603.35 1130.23L1604.84 1130.27L1606.34 1130.31L1607.83 1130.36L1609.33 1130.41L1610.82 1130.47L1612.31 1130.54L1613.81 1130.61L1615.3 1130.68L1616.79 1130.76L1618.29 1130.84L1619.78 1130.93L1621.28 1131.02L1622.77 1131.11L1624.26 1131.21L1625.76 1131.32L1627.25 1131.42L1628.75 1131.54L1630.24 1131.65L1631.74 1131.77L1633.23 1131.89L1634.73 1132.02L1636.22 1132.14L1637.71 1132.28L1639.21 1132.41L1640.7 1132.55L1642.2 1132.69L1643.69 1132.83L1645.19 1132.97L1646.68 1133.12L1648.18 1133.27L1649.67 1133.42L1651.17 1133.57L1652.66 1133.73L1654.16 1133.89L1655.65 1134.05L1657.15 1134.21L1658.64 1134.37L1660.14 1134.53L1661.63 1134.7L1663.13 1134.86L1664.62 1135.03L1666.12 1135.2L1667.61 1135.37L1669.11 1135.53L1670.6 1135.7L1672.1 1135.87L1673.59 1136.05L1675.09 1136.22L1676.58 1136.39L1678.08 1136.56L1679.57 1136.73L1681.07 1136.9L1682.56 1137.07L1684.06 1137.24L1685.55 1137.41L1687.05 1137.58L1688.54 1137.75L1690.04 1137.91L1691.53 1138.08L1693.03 1138.24L1694.53 1138.41L1696.02 1138.57L1697.52 1138.73L1699.01 1138.89L1700.51 1139.05L1702 1139.21L1703.5 1139.36L1704.99 1139.51L1706.49 1139.66L1707.98 1139.81L1709.48 1139.96L1710.97 1140.1L1712.47 1140.24L1713.96 1140.38L1715.46 1140.52L1716.95 1140.65L1718.45 1140.78L1719.94 1140.91L1721.44 1141.03L1722.93 1141.15L1724.43 1141.27L1725.92 1141.38L1727.42 1141.5L1728.91 1141.6L1730.41 1141.71L1731.9 1141.81L1733.39 1141.9L1734.89 1142L1736.38 1142.08L1737.88 1142.17L1739.37 1142.25L1740.87 1142.32L1742.36 1142.39L1743.86 1142.46L1745.35 1142.52L1746.84 1142.58L1748.34 1142.63L1749.83 1142.68L1751.33 1142.72L1752.82 1142.76L1754.31 1142.79L1755.81 1142.82L1757.3 1142.84L1758.8 1142.85L1760.29 1142.86L1761.78 1142.87L1763.28 1142.86L1764.77 1142.86L1766.26 1142.84L1767.76 1142.82L1769.25 1142.8L1770.74 1142.76L1772.24 1142.72L1773.73 1142.68L1775.22 1142.63L1776.72 1142.57L1778.21 1142.5L1779.7 1142.43L1781.19 1142.35L1782.69 1142.26L1784.18 1142.16L1785.67 1142.06L1787.16 1141.95L1788.65 1141.84L1790.15 1141.71L1791.64 1141.58L1793.13 1141.45L1794.62 1141.31L1796.11 1141.16L1797.61 1141L1799.1 1140.85L1800.59 1140.68L1802.08 1140.51L1803.57 1140.34L1805.06 1140.17L1806.56 1139.99L1808.05 1139.8L1809.54 1139.61L1811.03 1139.42L1812.52 1139.23L1814.01 1139.04L1815.51 1138.84L1817 1138.64L1818.49 1138.44L1819.98 1138.23L1821.47 1138.03L1822.96 1137.83L1824.45 1137.62L1825.95 1137.41L1827.44 1137.21L1828.93 1137L1830.42 1136.8L1831.91 1136.59L1833.41 1136.39L1834.9 1136.19L1836.39 1135.99L1837.88 1135.79L1839.37 1135.59L1840.87 1135.4L1842.36 1135.2L1843.85 1135.02L1845.34 1134.83L1846.84 1134.65L1848.33 1134.47L1849.82 1134.29L1851.32 1134.12L1852.81 1133.96L1854.3 1133.79L1855.8 1133.64L1857.29 1133.49L1858.78 1133.34L1860.28 1133.2L1861.77 1133.07L1863.27 1132.94L1864.76 1132.82L1866.26 1132.7L1867.75 1132.6L1869.25 1132.5L1870.74 1132.41L1872.24 1132.32L1873.73 1132.25L1875.23 1132.18L1876.72 1132.12L1878.22 1132.07L1879.72 1132.03L1881.21 1132L1882.71 1131.98L1884.21 1131.97L1885.7 1131.97L1887.2 1131.98L1888.7 1132L1890.2 1132.04L1891.7 1132.08" stroke-dasharray="39.72 9.93 19.86 9.93" stroke-dashoffset="0"/>
</g>
<path d="M165.74 1162.6L201.34 1162.6M183.54 1144.8L183.54 1180.4M170.95 1150.01L196.13 1175.19M170.95 1175.19L196.13 1150.01" fill="none" stroke="#7E2F8E" stroke-width="10.3" stroke-linecap="butt"/>
<path d="M204.3 742.8L239.9 742.8M222.1 725L222.1 760.6M209.52 730.21L234.69 755.39M209.52 755.39L234.69 730.21" fill="none" stroke="#7E2F8E" stroke-width="10.3" stroke-linecap="butt"/>
<path d="M293.98 480.6L329.58 480.6M311.78 462.8L311.78 498.4M299.2 468.01L324.37 493.19M299.2 493.19L324.37 468.01" fill="none" stroke="#7E2F8E" stroke-width="10.3" stroke-linecap="butt"/>
<path d="M377.01 641.6L412.61 641.6M394.81 623.8L394.81 659.4M382.23 629.01L407.4 654.19M382.23 654.19L407.4 629.01" fill="none" stroke="#7E2F8E" stroke-width="10.3" stroke-linecap="butt"/>
<path d="M477.77 801.4L513.37 801.4M495.57 783.6L495.57 819.2M482.98 788.81L508.16 813.99M482.98 813.99L508.16 788.81" fill="none" stroke="#7E2F8E" stroke-width="10.3" stroke-linecap="butt"/>
<path d="M598.38 1049.7L633.98 1049.7M616.18 1031.9L616.18 1067.5M603.59 1037.11L628.77 1062.29M603.59 1062.29L628.77 1037.11" fill="none" stroke="#7E2F8E" stroke-width="10.3" stroke-linecap="butt"/>
<path d="M797.02 1151.5L832.62 1151.5M814.82 1133.7L814.82 1169.3M802.23 1138.91L827.4 1164.09M802.23 1164.09L827.4 1138.91" fill="none" stroke="#7E2F8E" stroke-width="10.3" stroke-linecap="butt"/>
<path d="M1038.57 1146.67L1074.17 1146.67M1056.37 1128.87L1056.37 1164.47M1043.78 1134.08L1068.95 1159.26M1043.78 1159.26L1068.95 1134.08" fill="none" stroke="#7E2F8E" stroke-width="10.3" stroke-linecap="butt"/>
<path d="M1339.6 1137.84L1375.2 1137.84M1357.4 1120.04L1357.4 1155.64M1344.81 1125.25L1369.99 1150.43M1344.81 1150.43L1369.99 1125.25" fill="none" stroke="#7E2F8E" stroke-width="10.3" stroke-linecap="butt"/>
<path d="M1677.64 1138.47L1713.24 1138.47M1695.44 1120.67L1695.44 1156.27M1682.85 1125.88L1708.02 1151.06M1682.85 1151.06L1708.02 1125.88" fill="none" stroke="#7E2F8E" stroke-width="10.3" stroke-linecap="butt"/>
</g>
<g stroke="#77AC30" stroke-width="10.3" stroke-linejoin="round">
<g clip-path="url(#axclip)">
<path d="M183.54 1162.6L183.67 1161.1L183.8 1159.61L183.93 1158.11L184.05 1156.62L184.17 1155.12L184.29 1153.62L184.41 1152.13L184.53 1150.63L184.64 1149.13L184.75 1147.64L184.86 1146.14L184.97 1144.64L185.07 1143.15L185.17 1141.65L185.27 1140.15L185.37 1138.66L185.47 1137.16L185.57 1135.66L185.66 1134.17L185.75 1132.67L185.84 1131.17L185.93 1129.68L186.01 1128.18L186.1 1126.68L186.18 1125.19L186.26 1123.69L186.34 1122.19L186.42 1120.69L186.5 1119.2L186.57 1117.7L186.64 1116.2L186.71 1114.7L186.78 1113.21L186.85 1111.71L186.92 1110.21L186.98 1108.71L187.05 1107.22L187.11 1105.72L187.17 1104.22L187.23 1102.72L187.29 1101.23L187.34 1099.73L187.4 1098.23L187.45 1096.73L187.51 1095.23L187.56 1093.74L187.61 1092.24L187.66 1090.74L187.71 1089.24L187.75 1087.74L187.8 1086.25L187.84 1084.75L187.89 1083.25L187.93 1081.75L187.97 1080.25L188.01 1078.75L188.05 1077.26L188.09 1075.76L188.13 1074.26L188.16 1072.76L188.2 1071.26L188.23 1069.76L188.27 1068.27L188.3 1066.77L188.33 1065.27L188.37 1063.77L188.4 1062.27L188.43 1060.77L188.46 1059.27L188.49 1057.78L188.51 1056.28L188.54 1054.78L188.57 1053.28L188.59 1051.78L188.62 1050.28L188.65 1048.78L188.67 1047.29L188.69 1045.79L188.72 1044.29L188.74 1042.79L188.76 1041.29L188.79 1039.79L188.81 1038.29L188.83 1036.79L188.85 1035.29L188.87 1033.8L188.89 1032.3L188.91 1030.8L188.93 1029.3L188.95 1027.8L188.97 1026.3L188.99 1024.8L189.01 1023.3L189.03 1021.8L189.05 1020.3L189.07 1018.81L189.09 1017.31L189.11 1015.81L189.13 1014.31L189.15 1012.81L189.17 1011.31L189.19 1009.81L189.21 1008.31L189.23 1006.81L189.25 1005.31L189.27 1003.81L189.29 1002.32L189.31 1000.82L189.33 999.32L189.35 997.82L189.37 996.32L189.39 994.82L189.41 993.32L189.43 991.82L189.46 990.32L189.48 988.82L189.5 987.32L189.52 985.82L189.55 984.32L189.57 982.83L189.6 981.33L189.62 979.83L189.65 978.33L189.68 976.83L189.7 975.33L189.73 973.83L189.76 972.33L189.79 970.83L189.82 969.33L189.85 967.83L189.88 966.33L189.91 964.84L189.95 963.34L189.98 961.84L190.02 960.34L190.05 958.84L190.09 957.34L190.12 955.84L190.16 954.34L190.2 952.84L190.24 951.34L190.28 949.84L190.32 948.34L190.37 946.85L190.41 945.35L190.45 943.85L190.5 942.35L190.54 940.85L190.59 939.35L190.64 937.85L190.68 936.35L190.73 934.85L190.78 933.35L190.83 931.86L190.88 930.36L190.94 928.86L190.99 927.36L191.04 925.86L191.1 924.36L191.15 922.86L191.21 921.36L191.26 919.86L191.32 918.36L191.38 916.87L191.44 915.37L191.49 913.87L191.55 912.37L191.62 910.87L191.68 909.37L191.74 907.87L191.8 906.37L191.87 904.88L191.93 903.38L191.99 901.88L192.06 900.38L192.13 898.88L192.19 897.38L192.26 895.88L192.33 894.38L192.4 892.89L192.47 891.39L192.54 889.89L192.61 888.39L192.68 886.89L192.75 885.39L192.82 883.89L192.9 882.4L192.97 880.9L193.05 879.4L193.12 877.9L193.2 876.4L193.27 874.9L193.35 873.41L193.43 871.91L193.51 870.41L193.58 868.91L193.66 867.41L193.74 865.91L193.82 864.41L193.91 862.92L193.99 861.42L194.07 859.92L194.15 858.42L194.23 856.92L194.32 855.43L194.4 853.93L194.49 852.43L194.57 850.93L194.66 849.43L194.74 847.93L194.83 846.44L194.92 844.94L195.01 843.44L195.09 841.94L195.18 840.44L195.27 838.95L195.36 837.45L195.45 835.95L195.54 834.45L195.63 832.96L195.73 831.46L195.82 829.96L195.91 828.46L196 826.96L196.1 825.47L196.19 823.97L196.28 822.47L196.38 820.97L196.47 819.48L196.57 817.98L196.67 816.48L196.76 814.98L196.86 813.49L196.96 811.99L197.05 810.49L197.15 808.99L197.25 807.5L197.35 806L197.45 804.5L197.55 803L197.65 801.51L197.75 800.01L197.85 798.51L197.95 797.02L198.05 795.52L198.15 794.02L198.25 792.52L198.35 791.03L198.46 789.53L198.56 788.03L198.66 786.54L198.77 785.04L198.87 783.54L198.97 782.05L199.08 780.55L199.18 779.05L199.29 777.55L199.39 776.06L199.5 774.56L199.6 773.06L199.71 771.57L199.82 770.07L199.92 768.57L200.03 767.08L200.14 765.58L200.24 764.09L200.35 762.59L200.46 761.09L200.57 759.6L200.67 758.1L200.78 756.6L200.89 755.11L201 753.61L201.11 752.11L201.22 750.62L201.33 749.12L201.44 747.63L201.55 746.13L201.66 744.63L201.77 743.14L201.88 741.64L201.99 740.15L202.1 738.65L202.21 737.15L202.32 735.66L202.43 734.16L202.54 732.67L202.65 731.17L202.76 729.68L202.87 728.18L202.99 726.68L203.1 725.19L203.21 723.69L203.32 722.2L203.43 720.7L203.55 719.21L203.66 717.71L203.77 716.22L203.88 714.72L204 713.23L204.11 711.73L204.22 710.24L204.33 708.74L204.45 707.25L204.56 705.75L204.67 704.26L204.79 702.76L204.9 701.27L205.01 699.77L205.12 698.28L205.24 696.78L205.35 695.29L205.46 693.79L205.58 692.3L205.69 690.8L205.8 689.31L205.92 687.81L206.03 686.32L206.14 684.83L206.25 683.33L206.37 681.84L206.48 680.34L206.59 678.85L206.71 677.35L206.82 675.86L206.93 674.37L207.04 672.87L207.16 671.38L207.27 669.88L207.38 668.39L207.5 666.9L207.61 665.4L207.72 663.91L207.83 662.42L207.95 660.92L208.06 659.43L208.17 657.93L208.28 656.44L208.4 654.95L208.51 653.45L208.62 651.96L208.73 650.47L208.85 648.97L208.96 647.48L209.07 645.99L209.18 644.49L209.3 643L209.41 641.51L209.52 640.01L209.63 638.52L209.75 637.03L209.86 635.53L209.97 634.04L210.08 632.55L210.2 631.05L210.31 629.56L210.42 628.07L210.53 626.57L210.65 625.08L210.76 623.59L210.87 622.09L210.98 620.6L211.1 619.11L211.21 617.61L211.32 616.12L211.43 614.63L211.55 613.13L211.66 611.64L211.77 610.15L211.88 608.65L212 607.16L212.11 605.67L212.22 604.17L212.34 602.68L212.45 601.19L212.56 599.69L212.67 598.2L212.79 596.71L212.9 595.21L213.01 593.72L213.13 592.22L213.24 590.73L213.35 589.24L213.47 587.74L213.58 586.25L213.69 584.76L213.81 583.26L213.92 581.77L214.03 580.28L214.15 578.78L214.26 577.29L214.38 575.79L214.49 574.3L214.6 572.81L214.72 571.31L214.83 569.82L214.95 568.32L215.06 566.83L215.17 565.34L215.29 563.84L215.4 562.35L215.52 560.85L215.63 559.36L215.75 557.86L215.86 556.37L215.98 554.87L216.09 553.38L216.21 551.89L216.32 550.39L216.44 548.9L216.55 547.4L216.67 545.91L216.78 544.41L216.9 542.92L217.01 541.42L217.13 539.93L217.24 538.43L217.36 536.94L217.48 535.44L217.59 533.94L217.71 532.45L217.83 530.95L217.94 529.46L218.06 527.96L218.17 526.47L218.29 524.97L218.41 523.47L218.53 521.98L218.64 520.48L218.76 518.99L218.88 517.49L218.99 515.99L219.11 514.5L219.23 513L219.35 511.5L219.47 510.01L219.58 508.51L219.7 507.01L219.82 505.52L219.94 504.02L220.06 502.52L220.18 501.02L220.3 499.53L220.41 498.03L220.53 496.53L220.65 495.03L220.77 493.54L220.89 492.04L221.01 490.54L221.13 489.04L221.25 487.54L221.37 486.04L221.49 484.55L221.61 483.05L221.73 481.55L221.85 480.05L221.98 478.55L222.1 477.05L222.22 475.55L222.34 474.05L222.46 472.55L222.58 471.05L222.71 469.55L222.83 468.05L222.95 466.55L223.07 465.05L223.2 463.55L223.32 462.05L223.44 460.55L223.57 459.05L223.69 457.55L223.81 456.05L223.94 454.55L224.06 453.05L224.19 451.55L224.31 450.05L224.44 448.55L224.57 447.05L224.69 445.55L224.82 444.05L224.95 442.55L225.08 441.05L225.2 439.55L225.33 438.05L225.46 436.55L225.59 435.05L225.72 433.55L225.85 432.05L225.98 430.55L226.11 429.05L226.24 427.55L226.37 426.05L226.51 424.56L226.64 423.06L226.77 421.56L226.91 420.06L227.04 418.56L227.18 417.06L227.31 415.56L227.45 414.06L227.58 412.57L227.72 411.07L227.86 409.57L228 408.07L228.14 406.58L228.28 405.08L228.42 403.58L228.56 402.09L228.7 400.59L228.84 399.09L228.98 397.6L229.13 396.1L229.27 394.61L229.41 393.11L229.56 391.62L229.71 390.12L229.85 388.63L230 387.13L230.15 385.64L230.3 384.15L230.45 382.65L230.6 381.16L230.75 379.67L230.9 378.17L231.05 376.68L231.21 375.19L231.36 373.7L231.52 372.21L231.67 370.72L231.83 369.23L231.99 367.74L232.14 366.25L232.3 364.76L232.46 363.27L232.62 361.78L232.79 360.3L232.95 358.81L233.11 357.32L233.28 355.84L233.44 354.35L233.61 352.86L233.78 351.38L233.95 349.89L234.12 348.41L234.29 346.93L234.46 345.44L234.63 343.96L234.8 342.48L234.98 341L235.15 339.52L235.33 338.03L235.51 336.55L235.68 335.07L235.86 333.6L236.04 332.12L236.23 330.64L236.41 329.16L236.59 327.68L236.78 326.21L236.96 324.73L237.15 323.26L237.34 321.78L237.53 320.31L237.72 318.84L237.91 317.36L238.1 315.89L238.3 314.42L238.49 312.95L238.69 311.48L238.89 310.01L239.08 308.54L239.28 307.07L239.49 305.6L239.69 304.14L239.89 302.67L240.1 301.2L240.3 299.74L240.51 298.27L240.72 296.81L240.93 295.35L241.15 293.88L241.36 292.42L241.58 290.96L241.8 289.49L242.02 288.03L242.25 286.57L242.47 285.11L242.7 283.64L242.93 282.18L243.16 280.72L243.4 279.26L243.63 277.8L243.87 276.34L244.11 274.88L244.36 273.41L244.61 271.95L244.86 270.49L245.11 269.03L245.37 267.57L245.63 266.11L245.89 264.64L246.15 263.18L246.42 261.72L246.69 260.25L246.97 258.79L247.25 257.33L247.53 255.86L247.81 254.4L248.1 252.93L248.39 251.46L248.69 250L248.99 248.53L249.29 247.06L249.6 245.59L249.91 244.12L250.23 242.65L250.54 241.18L250.87 239.71L251.19 238.24L251.53 236.77L251.86 235.29L252.2 233.82L252.55 232.34L252.9 230.87L253.25 229.39L253.61 227.91L253.97 226.43L254.34 224.95L254.71 223.47L255.09 221.98L255.47 220.5L255.85 219.01L256.25 217.53L256.64 216.04L257.04 214.55L257.45 213.06L257.86 211.56L258.28 210.07L258.71 208.58L259.13 207.08L259.57 205.58L260.01 204.08L260.45 202.58L260.9 201.08L261.36 199.57L261.82 198.07L262.29 196.56L262.77 195.05L263.25 193.54L263.73 192.02L264.23 190.51L264.73 188.99L265.23 187.47L265.74 185.95L266.26 184.43L266.79 182.91L267.32 181.38L267.86 179.85L268.41 178.34L268.98 176.83L269.57 175.35L270.18 173.89L270.82 172.46L271.49 171.08L272.2 169.73L272.95 168.44L273.74 167.21L274.58 166.04L275.47 164.93L276.41 163.91L277.42 162.97L278.48 162.11L279.6 161.35L280.77 160.7L281.98 160.15L283.21 159.73L284.48 159.42L285.76 159.25L287.05 159.22L288.34 159.33L289.62 159.6L290.9 160L292.17 160.51L293.43 161.14L294.67 161.85L295.9 162.63L297.1 163.48L298.29 164.36L299.46 165.27L300.6 166.21L301.72 167.16L302.82 168.13L303.9 169.12L304.95 170.13L305.99 171.16L307 172.2L307.99 173.26L308.96 174.34L309.91 175.44L310.85 176.55L311.76 177.68L312.66 178.83L313.53 179.99L314.39 181.16L315.23 182.36L316.06 183.56L316.87 184.78L317.66 186.01L318.43 187.26L319.19 188.51L319.94 189.79L320.67 191.07L321.38 192.36L322.08 193.67L322.77 194.99L323.45 196.31L324.11 197.65L324.76 199L325.39 200.36L326.02 201.73L326.63 203.1L327.23 204.49L327.82 205.88L328.41 207.28L328.98 208.69L329.54 210.1L330.09 211.52L330.63 212.95L331.17 214.38L331.7 215.82L332.22 217.27L332.73 218.72L333.23 220.17L333.73 221.63L334.22 223.09L334.71 224.56L335.19 226.03L335.67 227.5L336.14 228.97L336.6 230.45L337.07 231.92L337.53 233.4L337.98 234.88L338.43 236.36L338.88 237.84L339.33 239.32L339.78 240.8L340.23 242.28L340.67 243.76L341.11 245.24L341.56 246.71L342 248.18L342.45 249.65L342.89 251.12L343.34 252.58L343.78 254.04L344.23 255.5L344.67 256.96L345.12 258.42L345.56 259.87L346.01 261.32L346.46 262.77L346.9 264.22L347.35 265.66L347.8 267.11L348.24 268.55L348.69 269.99L349.14 271.42L349.59 272.86L350.04 274.3L350.48 275.73L350.93 277.16L351.38 278.59L351.83 280.02L352.28 281.45L352.73 282.88L353.18 284.3L353.63 285.72L354.07 287.15L354.52 288.57L354.97 289.99L355.42 291.41L355.87 292.83L356.32 294.24L356.77 295.66L357.22 297.08L357.67 298.49L358.12 299.91L358.57 301.32L359.02 302.73L359.47 304.15L359.92 305.56L360.37 306.97L360.82 308.38L361.27 309.79L361.72 311.2L362.17 312.61L362.62 314.02L363.07 315.43L363.52 316.84L363.97 318.25L364.42 319.66L364.87 321.07L365.32 322.48L365.77 323.88L366.22 325.29L366.67 326.7L367.12 328.11L367.57 329.52L368.01 330.93L368.46 332.35L368.91 333.76L369.36 335.17L369.81 336.58L370.26 337.99L370.7 339.41L371.15 340.82L371.6 342.24L372.05 343.65L372.49 345.07L372.94 346.49L373.39 347.91L373.84 349.33L374.28 350.75L374.73 352.17L375.17 353.59L375.62 355.01L376.07 356.44L376.51 357.86L376.96 359.29L377.4 360.71L377.85 362.14L378.3 363.57L378.74 365L379.19 366.43L379.64 367.86L380.08 369.29L380.53 370.72L380.98 372.15L381.43 373.58L381.87 375.02L382.32 376.45L382.77 377.88L383.22 379.32L383.67 380.75L384.12 382.18L384.58 383.62L385.03 385.05L385.48 386.49L385.94 387.92L386.39 389.36L386.85 390.8L387.3 392.23L387.76 393.67L388.22 395.1L388.68 396.54L389.14 397.97L389.6 399.41L390.06 400.84L390.53 402.28L390.99 403.71L391.46 405.15L391.92 406.58L392.39 408.01L392.86 409.45L393.33 410.88L393.81 412.31L394.28 413.75L394.76 415.18L395.23 416.61L395.71 418.04L396.19 419.47L396.67 420.9L397.16 422.33L397.64 423.76L398.13 425.18L398.62 426.61L399.11 428.04L399.6 429.46L400.1 430.89L400.59 432.31L401.09 433.73L401.59 435.15L402.09 436.57L402.6 437.99L403.1 439.41L403.61 440.83L404.12 442.25L404.63 443.66L405.15 445.07L405.67 446.49L406.19 447.9L406.71 449.31L407.23 450.72L407.76 452.13L408.29 453.53L408.82 454.94L409.36 456.34L409.89 457.74L410.43 459.14L410.98 460.54L411.52 461.94L412.07 463.34L412.62 464.73L413.17 466.12L413.73 467.51L414.29 468.9L414.85 470.29L415.41 471.68L415.98 473.06L416.55 474.45L417.12 475.83L417.7 477.21L418.27 478.59L418.85 479.97L419.43 481.35L420.02 482.72L420.61 484.1L421.2 485.47L421.79 486.84L422.38 488.21L422.98 489.58L423.58 490.95L424.18 492.31L424.79 493.68L425.39 495.04L426 496.41L426.62 497.77L427.23 499.13L427.85 500.49L428.46 501.85L429.09 503.21L429.71 504.57L430.33 505.92L430.96 507.28L431.59 508.63L432.22 509.99L432.86 511.34L433.49 512.69L434.13 514.04L434.77 515.39L435.42 516.74L436.06 518.09L436.71 519.44L437.36 520.79L438.01 522.13L438.66 523.48L439.32 524.82L439.98 526.17L440.64 527.51L441.3 528.85L441.96 530.2L442.63 531.54L443.29 532.88L443.96 534.22L444.63 535.56L445.3 536.9L445.97 538.25L446.65 539.59L447.32 540.93L447.99 542.27L448.67 543.61L449.34 544.95L450.02 546.29L450.7 547.63L451.37 548.97L452.05 550.31L452.72 551.65L453.4 552.99L454.07 554.33L454.74 555.67L455.42 557.01L456.09 558.35L456.76 559.7L457.43 561.04L458.1 562.39L458.77 563.73L459.43 565.08L460.09 566.42L460.76 567.77L461.42 569.12L462.07 570.47L462.73 571.82L463.38 573.17L464.03 574.52L464.68 575.87L465.33 577.23L465.97 578.58L466.61 579.94L467.25 581.3L467.88 582.66L468.51 584.02L469.14 585.38L469.76 586.74L470.38 588.11L470.99 589.48L471.6 590.85L472.21 592.22L472.81 593.59L473.41 594.96L474.01 596.34L474.59 597.72L475.18 599.1L475.76 600.48L476.33 601.86L476.9 603.25L477.46 604.63L478.02 606.02L478.57 607.42L479.12 608.81L479.67 610.2L480.21 611.6L480.74 613L481.28 614.4L481.81 615.8L482.33 617.2L482.86 618.61L483.38 620.01L483.9 621.42L484.41 622.82L484.92 624.23L485.44 625.64L485.95 627.05L486.46 628.46L486.96 629.87L487.47 631.28L487.98 632.69L488.48 634.1L488.99 635.51L489.5 636.92L490 638.33L490.51 639.74L491.02 641.15L491.53 642.56L492.04 643.97L492.55 645.38L493.06 646.79L493.57 648.19L494.09 649.6L494.61 651.01L495.13 652.41L495.66 653.81L496.19 655.21L496.72 656.62L497.25 658.02L497.78 659.41L498.32 660.81L498.86 662.21L499.4 663.61L499.94 665L500.48 666.4L501.03 667.79L501.57 669.19L502.11 670.59L502.66 671.98L503.2 673.38L503.74 674.77L504.28 676.17L504.82 677.57L505.36 678.96L505.9 680.36L506.43 681.76L506.97 683.16L507.5 684.56L508.02 685.96L508.55 687.37L509.07 688.77L509.58 690.17L510.1 691.58L510.61 692.99L511.11 694.4L511.61 695.81L512.11 697.23L512.59 698.64L513.08 700.06L513.56 701.48L514.03 702.9L514.5 704.33L514.96 705.76L515.41 707.19L515.86 708.62L516.3 710.05L516.73 711.49L517.16 712.93L517.59 714.37L518.01 715.81L518.42 717.26L518.83 718.71L519.24 720.15L519.64 721.6L520.04 723.05L520.43 724.51L520.82 725.96L521.21 727.41L521.59 728.87L521.97 730.33L522.35 731.78L522.73 733.24L523.1 734.7L523.47 736.16L523.84 737.62L524.21 739.08L524.58 740.54L524.94 742L525.31 743.46L525.67 744.93L526.03 746.39L526.4 747.85L526.76 749.31L527.12 750.77L527.49 752.23L527.85 753.69L528.21 755.15L528.58 756.6L528.95 758.06L529.32 759.52L529.69 760.97L530.06 762.43L530.43 763.88L530.81 765.33L531.18 766.78L531.56 768.23L531.94 769.68L532.33 771.13L532.71 772.58L533.09 774.02L533.48 775.47L533.87 776.91L534.26 778.36L534.65 779.8L535.04 781.24L535.44 782.68L535.83 784.12L536.23 785.57L536.63 787L537.03 788.44L537.43 789.88L537.83 791.32L538.24 792.76L538.64 794.19L539.05 795.63L539.46 797.07L539.86 798.5L540.28 799.93L540.69 801.37L541.1 802.8L541.51 804.24L541.93 805.67L542.35 807.1L542.76 808.53L543.18 809.96L543.6 811.4L544.02 812.83L544.45 814.26L544.87 815.69L545.29 817.12L545.72 818.55L546.14 819.98L546.57 821.41L547 822.84L547.43 824.27L547.86 825.7L548.29 827.13L548.72 828.56L549.16 829.98L549.59 831.41L550.02 832.84L550.46 834.27L550.9 835.7L551.33 837.13L551.77 838.56L552.21 839.99L552.65 841.42L553.09 842.85L553.53 844.28L553.97 845.71L554.41 847.14L554.85 848.57L555.3 850L555.74 851.43L556.19 852.86L556.63 854.3L557.08 855.73L557.53 857.16L557.97 858.59L558.42 860.02L558.87 861.46L559.32 862.89L559.77 864.32L560.23 865.75L560.68 867.19L561.13 868.62L561.59 870.05L562.04 871.48L562.5 872.92L562.96 874.35L563.42 875.78L563.88 877.21L564.35 878.64L564.81 880.07L565.28 881.5L565.74 882.93L566.21 884.36L566.68 885.79L567.15 887.22L567.63 888.65L568.1 890.08L568.58 891.51L569.05 892.94L569.53 894.36L570.01 895.79L570.5 897.22L570.98 898.64L571.47 900.07L571.96 901.49L572.45 902.91L572.94 904.34L573.43 905.76L573.93 907.18L574.43 908.6L574.93 910.02L575.43 911.44L575.94 912.86L576.44 914.27L576.95 915.69L577.46 917.11L577.98 918.52L578.49 919.93L579.01 921.34L579.53 922.76L580.06 924.17L580.58 925.58L581.11 926.98L581.64 928.39L582.17 929.8L582.71 931.2L583.25 932.6L583.79 934.01L584.33 935.41L584.88 936.81L585.43 938.2L585.98 939.6L586.54 941L587.09 942.39L587.65 943.78L588.22 945.17L588.78 946.56L589.35 947.95L589.93 949.34L590.5 950.72L591.08 952.11L591.67 953.49L592.25 954.87L592.84 956.25L593.43 957.62L594.03 959L594.63 960.37L595.23 961.74L595.83 963.11L596.44 964.48L597.05 965.85L597.67 967.21L598.29 968.58L598.91 969.94L599.54 971.29L600.17 972.65L600.8 974.01L601.44 975.36L602.08 976.71L602.73 978.06L603.38 979.4L604.03 980.75L604.69 982.09L605.35 983.43L606.01 984.77L606.68 986.1L607.36 987.44L608.03 988.77L608.72 990.1L609.4 991.42L610.09 992.75L610.78 994.07L611.48 995.39L612.18 996.7L612.89 998.02L613.6 999.33L614.32 1000.64L615.04 1001.94L615.76 1003.25L616.49 1004.55L617.22 1005.85L617.96 1007.14L618.71 1008.44L619.45 1009.73L620.2 1011.02L620.96 1012.3L621.72 1013.58L622.49 1014.86L623.26 1016.14L624.04 1017.41L624.82 1018.69L625.6 1019.95L626.39 1021.22L627.19 1022.48L627.99 1023.74L628.8 1025L629.61 1026.25L630.42 1027.5L631.24 1028.75L632.07 1029.99L632.9 1031.23L633.74 1032.47L634.58 1033.7L635.43 1034.93L636.28 1036.16L637.14 1037.39L638.01 1038.61L638.87 1039.83L639.75 1041.04L640.63 1042.25L641.52 1043.46L642.41 1044.66L643.31 1045.87L644.21 1047.06L645.12 1048.26L646.03 1049.45L646.95 1050.63L647.88 1051.82L648.81 1053L649.75 1054.17L650.69 1055.35L651.64 1056.51L652.6 1057.68L653.56 1058.84L654.53 1059.99L655.5 1061.14L656.48 1062.29L657.47 1063.43L658.46 1064.57L659.46 1065.7L660.46 1066.83L661.47 1067.95L662.48 1069.07L663.51 1070.18L664.53 1071.28L665.57 1072.38L666.61 1073.47L667.65 1074.56L668.7 1075.64L669.76 1076.72L670.82 1077.78L671.89 1078.85L672.97 1079.9L674.05 1080.95L675.13 1081.99L676.23 1083.02L677.33 1084.05L678.43 1085.07L679.54 1086.08L680.66 1087.09L681.78 1088.08L682.91 1089.07L684.05 1090.05L685.19 1091.02L686.34 1091.99L687.49 1092.94L688.65 1093.89L689.82 1094.83L690.99 1095.76L692.17 1096.68L693.35 1097.59L694.54 1098.49L695.74 1099.39L696.94 1100.27L698.15 1101.15L699.36 1102.01L700.59 1102.86L701.81 1103.71L703.04 1104.55L704.28 1105.37L705.53 1106.19L706.77 1107L708.03 1107.81L709.29 1108.6L710.55 1109.39L711.82 1110.17L713.1 1110.94L714.37 1111.7L715.66 1112.46L716.95 1113.22L718.24 1113.96L719.54 1114.7L720.84 1115.43L722.14 1116.16L723.45 1116.89L724.76 1117.6L726.08 1118.32L727.4 1119.02L728.72 1119.73L730.05 1120.43L731.38 1121.12L732.71 1121.81L734.04 1122.5L735.38 1123.18L736.72 1123.87L738.07 1124.54L739.41 1125.22L740.76 1125.89L742.11 1126.57L743.47 1127.23L744.82 1127.9L746.18 1128.56L747.54 1129.22L748.9 1129.88L750.27 1130.53L751.63 1131.18L753 1131.82L754.37 1132.46L755.75 1133.1L757.13 1133.72L758.5 1134.35L759.89 1134.96L761.27 1135.57L762.66 1136.17L764.04 1136.77L765.44 1137.36L766.83 1137.93L768.23 1138.51L769.63 1139.07L771.03 1139.62L772.43 1140.17L773.84 1140.7L775.25 1141.22L776.66 1141.74L778.08 1142.24L779.49 1142.74L780.91 1143.22L782.34 1143.69L783.76 1144.14L785.19 1144.59L786.63 1145.02L788.06 1145.45L789.5 1145.86L790.94 1146.25L792.38 1146.64L793.82 1147.02L795.27 1147.38L796.72 1147.73L798.17 1148.07L799.63 1148.4L801.08 1148.72L802.54 1149.03L804 1149.33L805.46 1149.62L806.93 1149.89L808.4 1150.16L809.86 1150.41L811.33 1150.66L812.81 1150.89L814.28 1151.12L815.76 1151.33L817.23 1151.54L818.71 1151.73L820.19 1151.92L821.68 1152.09L823.16 1152.26L824.64 1152.41L826.13 1152.56L827.62 1152.7L829.11 1152.83L830.6 1152.95L832.09 1153.06L833.58 1153.16L835.07 1153.25L836.57 1153.34L838.06 1153.42L839.56 1153.48L841.06 1153.54L842.56 1153.59L844.05 1153.64L845.55 1153.67L847.05 1153.7L848.55 1153.72L850.05 1153.73L851.56 1153.73L853.06 1153.73L854.56 1153.72L856.06 1153.7L857.57 1153.68L859.07 1153.64L860.57 1153.6L862.08 1153.56L863.58 1153.5L865.08 1153.44L866.59 1153.38L868.09 1153.3L869.59 1153.22L871.09 1153.14L872.6 1153.05L874.1 1152.95L875.6 1152.84L877.1 1152.73L878.61 1152.62L880.11 1152.5L881.61 1152.37L883.11 1152.23L884.6 1152.1L886.1 1151.95L887.6 1151.81L889.1 1151.65L890.6 1151.5L892.09 1151.33L893.59 1151.17L895.08 1151L896.58 1150.83L898.07 1150.65L899.57 1150.47L901.06 1150.29L902.55 1150.1L904.05 1149.91L905.54 1149.72L907.03 1149.53L908.52 1149.33L910.02 1149.14L911.51 1148.94L913 1148.74L914.49 1148.54L915.98 1148.34L917.47 1148.13L918.96 1147.93L920.45 1147.72L921.93 1147.52L923.42 1147.32L924.91 1147.11L926.4 1146.91L927.89 1146.7L929.37 1146.5L930.86 1146.3L932.35 1146.1L933.84 1145.9L935.32 1145.7L936.81 1145.51L938.3 1145.31L939.78 1145.12L941.27 1144.93L942.75 1144.74L944.24 1144.56L945.73 1144.38L947.21 1144.2L948.7 1144.03L950.18 1143.86L951.67 1143.69L953.15 1143.52L954.64 1143.37L956.12 1143.21L957.61 1143.06L959.09 1142.92L960.58 1142.77L962.06 1142.64L963.55 1142.51L965.03 1142.39L966.52 1142.27L968 1142.15L969.49 1142.05L970.97 1141.95L972.46 1141.85L973.95 1141.77L975.43 1141.69L976.92 1141.61L978.4 1141.55L979.89 1141.49L981.37 1141.44L982.86 1141.4L984.35 1141.37L985.83 1141.34L987.32 1141.32L988.81 1141.32L990.29 1141.32L991.78 1141.33L993.27 1141.35L994.76 1141.38L996.25 1141.41L997.73 1141.46L999.22 1141.52L1000.71 1141.59L1002.2 1141.67L1003.69 1141.76L1005.18 1141.86L1006.67 1141.97L1008.16 1142.09L1009.65 1142.22L1011.14 1142.35L1012.63 1142.5L1014.12 1142.65L1015.61 1142.81L1017.11 1142.97L1018.6 1143.15L1020.09 1143.32L1021.58 1143.51L1023.08 1143.7L1024.57 1143.9L1026.06 1144.1L1027.55 1144.31L1029.05 1144.52L1030.54 1144.73L1032.03 1144.95L1033.53 1145.17L1035.02 1145.4L1036.51 1145.63L1038.01 1145.86L1039.5 1146.09L1041 1146.33L1042.49 1146.56L1043.99 1146.8L1045.48 1147.04L1046.98 1147.28L1048.47 1147.51L1049.96 1147.75L1051.46 1147.99L1052.95 1148.23L1054.45 1148.46L1055.94 1148.69L1057.44 1148.93L1058.93 1149.15L1060.43 1149.38L1061.92 1149.6L1063.42 1149.83L1064.91 1150.04L1066.41 1150.25L1067.91 1150.46L1069.4 1150.67L1070.9 1150.87L1072.39 1151.06L1073.89 1151.25L1075.38 1151.43L1076.88 1151.6L1078.37 1151.77L1079.86 1151.93L1081.36 1152.09L1082.85 1152.24L1084.35 1152.37L1085.84 1152.51L1087.34 1152.63L1088.83 1152.74L1090.33 1152.85L1091.82 1152.95L1093.31 1153.04L1094.81 1153.12L1096.3 1153.19L1097.8 1153.26L1099.29 1153.32L1100.78 1153.37L1102.28 1153.41L1103.77 1153.45L1105.26 1153.47L1106.75 1153.49L1108.25 1153.51L1109.74 1153.51L1111.23 1153.51L1112.72 1153.5L1114.21 1153.49L1115.71 1153.47L1117.2 1153.44L1118.69 1153.4L1120.18 1153.36L1121.67 1153.31L1123.16 1153.25L1124.65 1153.19L1126.14 1153.12L1127.63 1153.04L1129.12 1152.96L1130.61 1152.87L1132.1 1152.77L1133.58 1152.67L1135.07 1152.56L1136.56 1152.45L1138.05 1152.32L1139.53 1152.2L1141.02 1152.07L1142.51 1151.93L1143.99 1151.78L1145.48 1151.63L1146.97 1151.48L1148.45 1151.32L1149.94 1151.15L1151.42 1150.98L1152.9 1150.8L1154.39 1150.62L1155.87 1150.43L1157.35 1150.23L1158.84 1150.04L1160.32 1149.83L1161.8 1149.62L1163.28 1149.41L1164.76 1149.19L1166.24 1148.97L1167.72 1148.74L1169.2 1148.5L1170.68 1148.27L1172.16 1148.02L1173.64 1147.78L1175.12 1147.53L1176.59 1147.27L1178.07 1147.01L1179.55 1146.75L1181.02 1146.48L1182.5 1146.2L1183.97 1145.93L1185.45 1145.65L1186.92 1145.36L1188.4 1145.07L1189.87 1144.78L1191.34 1144.48L1192.81 1144.18L1194.28 1143.88L1195.76 1143.57L1197.23 1143.26L1198.7 1142.95L1200.16 1142.63L1201.63 1142.31L1203.1 1141.99L1204.57 1141.66L1206.03 1141.33L1207.5 1141L1208.97 1140.66L1210.43 1140.32L1211.9 1139.98L1213.36 1139.63L1214.82 1139.29L1216.29 1138.94L1217.75 1138.58L1219.21 1138.23L1220.67 1137.87L1222.13 1137.51L1223.59 1137.15L1225.05 1136.79L1226.51 1136.44L1227.97 1136.08L1229.43 1135.72L1230.88 1135.37L1232.34 1135.02L1233.8 1134.67L1235.26 1134.32L1236.72 1133.98L1238.18 1133.65L1239.65 1133.32L1241.11 1133L1242.57 1132.68L1244.03 1132.38L1245.5 1132.08L1246.96 1131.78L1248.43 1131.5L1249.9 1131.23L1251.36 1130.97L1252.83 1130.72L1254.31 1130.48L1255.78 1130.25L1257.25 1130.04L1258.73 1129.84L1260.21 1129.65L1261.69 1129.48L1263.17 1129.32L1264.65 1129.18L1266.14 1129.05L1267.63 1128.95L1269.12 1128.85L1270.61 1128.78L1272.1 1128.73L1273.6 1128.69L1275.1 1128.68L1276.61 1128.68L1278.11 1128.7L1279.62 1128.73L1281.12 1128.78L1282.63 1128.85L1284.14 1128.92L1285.66 1129.01L1287.17 1129.11L1288.68 1129.21L1290.2 1129.33L1291.71 1129.45L1293.23 1129.58L1294.74 1129.71L1296.25 1129.85L1297.77 1129.99L1299.28 1130.13L1300.79 1130.27L1302.3 1130.4L1303.81 1130.54L1305.32 1130.68L1306.82 1130.82L1308.33 1130.96L1309.83 1131.1L1311.34 1131.23L1312.84 1131.37L1314.34 1131.51L1315.84 1131.66L1317.34 1131.8L1318.83 1131.95L1320.33 1132.09L1321.83 1132.24L1323.32 1132.4L1324.81 1132.55L1326.3 1132.71L1327.79 1132.87L1329.28 1133.04L1330.77 1133.21L1332.25 1133.39L1333.73 1133.57L1335.22 1133.75L1336.7 1133.94L1338.18 1134.13L1339.66 1134.33L1341.14 1134.54L1342.61 1134.75L1344.09 1134.97L1345.56 1135.2L1347.03 1135.43L1348.5 1135.67L1349.97 1135.92L1351.44 1136.17L1352.91 1136.44L1354.37 1136.71L1355.84 1136.99L1357.3 1137.28L1358.76 1137.58L1360.22 1137.89L1361.68 1138.2L1363.14 1138.52L1364.6 1138.85L1366.05 1139.18L1367.51 1139.51L1368.97 1139.85L1370.42 1140.19L1371.88 1140.53L1373.34 1140.87L1374.8 1141.21L1376.26 1141.54L1377.72 1141.88L1379.18 1142.21L1380.64 1142.53L1382.11 1142.85L1383.57 1143.17L1385.04 1143.47L1386.51 1143.77L1387.99 1144.06L1389.46 1144.34L1390.94 1144.62L1392.42 1144.88L1393.9 1145.14L1395.38 1145.39L1396.87 1145.63L1398.35 1145.86L1399.84 1146.08L1401.33 1146.3L1402.82 1146.5L1404.31 1146.7L1405.8 1146.89L1407.3 1147.07L1408.79 1147.24L1410.29 1147.41L1411.79 1147.56L1413.29 1147.71L1414.79 1147.85L1416.28 1147.98L1417.79 1148.1L1419.29 1148.21L1420.79 1148.31L1422.29 1148.4L1423.79 1148.49L1425.3 1148.56L1426.8 1148.63L1428.3 1148.69L1429.81 1148.73L1431.31 1148.77L1432.81 1148.8L1434.32 1148.82L1435.82 1148.84L1437.32 1148.84L1438.83 1148.83L1440.33 1148.82L1441.83 1148.79L1443.33 1148.76L1444.83 1148.71L1446.33 1148.66L1447.83 1148.59L1449.33 1148.52L1450.83 1148.44L1452.32 1148.35L1453.82 1148.25L1455.31 1148.13L1456.81 1148.01L1458.3 1147.88L1459.79 1147.74L1461.28 1147.59L1462.77 1147.43L1464.26 1147.26L1465.74 1147.08L1467.22 1146.89L1468.7 1146.69L1470.18 1146.48L1471.66 1146.27L1473.14 1146.04L1474.61 1145.8L1476.09 1145.55L1477.56 1145.3L1479.03 1145.04L1480.5 1144.77L1481.97 1144.49L1483.43 1144.2L1484.9 1143.91L1486.36 1143.61L1487.83 1143.31L1489.29 1142.99L1490.75 1142.68L1492.21 1142.35L1493.67 1142.03L1495.13 1141.69L1496.59 1141.35L1498.05 1141.01L1499.51 1140.67L1500.97 1140.31L1502.43 1139.96L1503.88 1139.6L1505.34 1139.24L1506.8 1138.88L1508.25 1138.51L1509.71 1138.15L1511.17 1137.78L1512.62 1137.4L1514.08 1137.03L1515.54 1136.66L1517 1136.28L1518.45 1135.91L1519.91 1135.53L1521.37 1135.16L1522.83 1134.79L1524.29 1134.41L1525.75 1134.04L1527.21 1133.67L1528.67 1133.3L1530.13 1132.94L1531.6 1132.58L1533.06 1132.22L1534.52 1131.86L1535.99 1131.51L1537.45 1131.16L1538.92 1130.82L1540.38 1130.49L1541.85 1130.15L1543.32 1129.83L1544.78 1129.51L1546.25 1129.2L1547.72 1128.89L1549.19 1128.59L1550.66 1128.3L1552.14 1128.02L1553.61 1127.75L1555.08 1127.48L1556.56 1127.23L1558.03 1126.98L1559.51 1126.75L1560.98 1126.52L1562.46 1126.31L1563.94 1126.11L1565.42 1125.91L1566.9 1125.73L1568.38 1125.57L1569.87 1125.41L1571.35 1125.27L1572.84 1125.15L1574.32 1125.03L1575.81 1124.93L1577.3 1124.85L1578.79 1124.78L1580.28 1124.72L1581.77 1124.68L1583.26 1124.66L1584.76 1124.65L1586.25 1124.67L1587.75 1124.69L1589.25 1124.74L1590.74 1124.8L1592.24 1124.88L1593.75 1124.97L1595.25 1125.08L1596.75 1125.2L1598.25 1125.33L1599.75 1125.48L1601.26 1125.63L1602.76 1125.8L1604.26 1125.97L1605.77 1126.15L1607.27 1126.33L1608.77 1126.53L1610.27 1126.72L1611.78 1126.92L1613.28 1127.13L1614.78 1127.33L1616.27 1127.54L1617.77 1127.75L1619.27 1127.95L1620.76 1128.16L1622.26 1128.36L1623.75 1128.57L1625.24 1128.77L1626.73 1128.98L1628.22 1129.18L1629.7 1129.38L1631.19 1129.58L1632.68 1129.79L1634.16 1129.99L1635.65 1130.19L1637.13 1130.4L1638.61 1130.6L1640.09 1130.81L1641.57 1131.01L1643.05 1131.22L1644.53 1131.42L1646.01 1131.63L1647.49 1131.84L1648.97 1132.05L1650.44 1132.27L1651.92 1132.48L1653.4 1132.69L1654.87 1132.91L1656.35 1133.13L1657.82 1133.35L1659.3 1133.58L1660.77 1133.8L1662.25 1134.03L1663.72 1134.26L1665.2 1134.49L1666.67 1134.73L1668.15 1134.96L1669.62 1135.21L1671.1 1135.45L1672.57 1135.7L1674.04 1135.95L1675.52 1136.2L1676.99 1136.46L1678.47 1136.72L1679.95 1136.98L1681.42 1137.25L1682.9 1137.52L1684.37 1137.8L1685.85 1138.08L1687.33 1138.36L1688.81 1138.65L1690.29 1138.95L1691.77 1139.24L1693.25 1139.55L1694.73 1139.85L1696.21 1140.17L1697.69 1140.48L1699.17 1140.8L1700.66 1141.13L1702.14 1141.45L1703.63 1141.78L1705.11 1142.11L1706.6 1142.43L1708.09 1142.76L1709.57 1143.09L1711.06 1143.41L1712.55 1143.73L1714.03 1144.04L1715.52 1144.35L1717.01 1144.66L1718.5 1144.95L1719.99 1145.24L1721.47 1145.53L1722.96 1145.8L1724.45 1146.06L1725.94 1146.32L1727.43 1146.56L1728.91 1146.79L1730.4 1147L1731.89 1147.21L1733.37 1147.4L1734.86 1147.57L1736.35 1147.73L1737.83 1147.87L1739.32 1148L1740.8 1148.11L1742.28 1148.2L1743.77 1148.28L1745.25 1148.35L1746.73 1148.4L1748.22 1148.43L1749.7 1148.46L1751.18 1148.47L1752.66 1148.46L1754.14 1148.45L1755.62 1148.42L1757.1 1148.37L1758.58 1148.32L1760.06 1148.25L1761.54 1148.18L1763.02 1148.09L1764.5 1147.99L1765.98 1147.87L1767.46 1147.75L1768.94 1147.62L1770.42 1147.48L1771.89 1147.33L1773.37 1147.17L1774.85 1146.99L1776.33 1146.81L1777.8 1146.63L1779.28 1146.43L1780.76 1146.23L1782.23 1146.01L1783.71 1145.79L1785.18 1145.56L1786.66 1145.33L1788.14 1145.09L1789.61 1144.84L1791.09 1144.59L1792.56 1144.33L1794.04 1144.06L1795.51 1143.79L1796.99 1143.52L1798.46 1143.24L1799.94 1142.95L1801.42 1142.66L1802.89 1142.37L1804.37 1142.07L1805.84 1141.77L1807.32 1141.47L1808.79 1141.16L1810.27 1140.85L1811.74 1140.54L1813.22 1140.22L1814.69 1139.91L1816.17 1139.59L1817.64 1139.27L1819.12 1138.95L1820.59 1138.63L1822.07 1138.31L1823.54 1137.99L1825.02 1137.67L1826.5 1137.35L1827.97 1137.03L1829.45 1136.71L1830.92 1136.4L1832.4 1136.08L1833.88 1135.77L1835.35 1135.45L1836.83 1135.14L1838.31 1134.84L1839.79 1134.53L1841.26 1134.23L1842.74 1133.93L1844.22 1133.64L1845.7 1133.35L1847.18 1133.06L1848.66 1132.78L1850.14 1132.5L1851.61 1132.23L1853.09 1131.97L1854.57 1131.7L1856.05 1131.45L1857.53 1131.2L1859.02 1130.96L1860.5 1130.72L1861.98 1130.49L1863.46 1130.27L1864.94 1130.06L1866.43 1129.85L1867.91 1129.65L1869.39 1129.46L1870.88 1129.28L1872.36 1129.11L1873.84 1128.95L1875.33 1128.79L1876.82 1128.65L1878.3 1128.51L1879.79 1128.39L1881.27 1128.28L1882.76 1128.17L1884.25 1128.08L1885.74 1128L1887.23 1127.93L1888.72 1127.88L1890.21 1127.83L1891.7 1127.8"/>
</g>
<polygon points="183.54,1138.9 201.34,1162.6 183.54,1186.3 165.74,1162.6" fill="none" stroke="#77AC30" stroke-width="10.3" stroke-linejoin="miter" stroke-miterlimit="10"/>
<polygon points="222.1,453.3 239.9,477 222.1,500.7 204.3,477" fill="none" stroke="#77AC30" stroke-width="10.3" stroke-linejoin="miter" stroke-miterlimit="10"/>
<polygon points="311.78,154 329.58,177.7 311.78,201.4 293.98,177.7" fill="none" stroke="#77AC30" stroke-width="10.3" stroke-linejoin="miter" stroke-miterlimit="10"/>
<polygon points="394.81,392 412.61,415.7 394.81,439.4 377.01,415.7" fill="none" stroke="#77AC30" stroke-width="10.3" stroke-linejoin="miter" stroke-miterlimit="10"/>
<polygon points="495.57,629.9 513.37,653.6 495.57,677.3 477.77,653.6" fill="none" stroke="#77AC30" stroke-width="10.3" stroke-linejoin="miter" stroke-miterlimit="10"/>
<polygon points="616.18,980.2 633.98,1003.9 616.18,1027.6 598.38,1003.9" fill="none" stroke="#77AC30" stroke-width="10.3" stroke-linejoin="miter" stroke-miterlimit="10"/>
<polygon points="814.82,1127.5 832.62,1151.2 814.82,1174.9 797.02,1151.2" fill="none" stroke="#77AC30" stroke-width="10.3" stroke-linejoin="miter" stroke-miterlimit="10"/>
<polygon points="1056.37,1125 1074.17,1148.7 1056.37,1172.4 1038.57,1148.7" fill="none" stroke="#77AC30" stroke-width="10.3" stroke-linejoin="miter" stroke-miterlimit="10"/>
<polygon points="1357.4,1113.6 1375.2,1137.3 1357.4,1161 1339.6,1137.3" fill="none" stroke="#77AC30" stroke-width="10.3" stroke-linejoin="miter" stroke-miterlimit="10"/>
<polygon points="1695.44,1116.3 1713.24,1140 1695.44,1163.7 1677.64,1140" fill="none" stroke="#77AC30" stroke-width="10.3" stroke-linejoin="miter" stroke-miterlimit="10"/>
</g>
<g stroke="#262626" stroke-width="10.3">
<line x1="1256.65" y1="112" x2="1411.22" y2="112"/>
<ellipse cx="1333.77" cy="112" rx="17.4" ry="18.6" fill="none" stroke="#262626" stroke-width="10.3"/>
</g>
<g stroke="#D95319" stroke-width="10.3">
<line x1="1256.65" y1="179.9" x2="1296.44" y2="179.9"/>
<line x1="1335.74" y1="179.9" x2="1375.21" y2="179.9"/>
<rect x="1320.07" y="166.2" width="27.4" height="27.4" fill="none" stroke="#D95319" stroke-width="10.3" stroke-linejoin="miter"/>
</g>
<g stroke="#EDB120" stroke-width="10.3">
<line x1="1256.73" y1="247.4" x2="1266.57" y2="247.4"/>
<line x1="1276.46" y1="247.4" x2="1286.31" y2="247.4"/>
<line x1="1296.19" y1="247.4" x2="1306.04" y2="247.4"/>
<line x1="1315.93" y1="247.4" x2="1325.77" y2="247.4"/>
<line x1="1335.66" y1="247.4" x2="1345.5" y2="247.4"/>
<line x1="1355.39" y1="247.4" x2="1365.24" y2="247.4"/>
<line x1="1375.12" y1="247.4" x2="1384.97" y2="247.4"/>
<line x1="1394.86" y1="247.4" x2="1404.7" y2="247.4"/>
<polygon points="1333.77,223.4 1354.56,259.4 1312.99,259.4" fill="none" stroke="#EDB120" stroke-width="10.3" stroke-linejoin="miter" stroke-miterlimit="10"/>
</g>
<g stroke="#7E2F8E" stroke-width="10.3">
<line x1="1256.65" y1="315" x2="1296.19" y2="315"/>
<line x1="1306.2" y1="315" x2="1374.96" y2="315"/>
<line x1="1385.05" y1="315" x2="1404.58" y2="315"/>
<path d="M1315.97 315L1351.57 315M1333.77 297.2L1333.77 332.8M1321.18 302.41L1346.36 327.59M1321.18 327.59L1346.36 302.41" fill="none" stroke="#7E2F8E" stroke-width="10.3" stroke-linecap="butt"/>
</g>
<g stroke="#77AC30" stroke-width="10.3">
<line x1="1256.65" y1="383.5" x2="1411.22" y2="383.5"/>
<polygon points="1333.77,359.8 1351.57,383.5 1333.77,407.2 1315.97,383.5" fill="none" stroke="#77AC30" stroke-width="10.3" stroke-linejoin="miter" stroke-miterlimit="10"/>
</g>
</g>
<text class="sans" transform="translate(197.5,1183.55) scale(1.1900,1.0000)" font-size="53" text-anchor="end" fill="#000000">20</text>
<text class="sans" transform="translate(197.5,1031.97) scale(1.1900,1.0000)" font-size="53" text-anchor="end" fill="#000000">20.5</text>
<text class="sans" transform="translate(200.21,880.39) scale(1.1900,1.0000)" font-size="53" text-anchor="end" fill="#000000">2<tspan dx="2.28">1</tspan></text><g transform="translate(200.21,880.39) scale(1.1900,1.0000)" fill="#ffffff"><rect x="-26.57" y="-4.19" width="10.39" height="5.04"/><rect x="-11.52" y="-4.19" width="9.86" height="5.04"/></g>
<text class="sans" transform="translate(197.5,728.81) scale(1.1900,1.0000)" font-size="53" text-anchor="end" fill="#000000">2<tspan dx="2.28">1</tspan><tspan dx="-2.28">.5</tspan></text><g transform="translate(197.5,728.81) scale(1.1900,1.0000)" fill="#ffffff"><rect x="-68.5" y="-4.19" width="10.39" height="5.04"/><rect x="-53.45" y="-4.19" width="9.86" height="5.04"/></g>
<text class="sans" transform="translate(197.5,577.24) scale(1.1900,1.0000)" font-size="53" text-anchor="end" fill="#000000">22</text>
<text class="sans" transform="translate(197.5,425.66) scale(1.1900,1.0000)" font-size="53" text-anchor="end" fill="#000000">22.5</text>
<text class="sans" transform="translate(197.5,274.08) scale(1.1900,1.0000)" font-size="53" text-anchor="end" fill="#000000">23</text>
<text class="sans" transform="translate(197.5,122.5) scale(1.1900,1.0000)" font-size="53" text-anchor="end" fill="#000000">23.5</text>
<text class="sans" transform="translate(223.5,1362.8) scale(1.1900,1.0000)" font-size="53" text-anchor="middle" fill="#262626">0</text>
<text class="sans" transform="translate(520.94,1362.8) scale(1.1900,1.0000)" font-size="53" text-anchor="middle" fill="#262626">5</text>
<text class="sans" transform="translate(816.08,1362.8) scale(1.1900,1.0000)" font-size="53" text-anchor="middle" fill="#262626"><tspan dx="2.28">1</tspan><tspan dx="-2.28">0</tspan></text><g transform="translate(816.08,1362.8) scale(1.1900,1.0000)" fill="#ffffff"><rect x="-23.15" y="-4.19" width="10.39" height="5.04"/><rect x="-8.1" y="-4.19" width="9.86" height="5.04"/></g>
<text class="sans" transform="translate(1113.52,1362.8) scale(1.1900,1.0000)" font-size="53" text-anchor="middle" fill="#262626"><tspan dx="2.28">1</tspan><tspan dx="-2.28">5</tspan></text><g transform="translate(1113.52,1362.8) scale(1.1900,1.0000)" fill="#ffffff"><rect x="-23.15" y="-4.19" width="10.39" height="5.04"/><rect x="-8.1" y="-4.19" width="9.86" height="5.04"/></g>
<text class="sans" transform="translate(1413.27,1362.8) scale(1.1900,1.0000)" font-size="53" text-anchor="middle" fill="#262626">20</text>
<text class="sans" transform="translate(1710.71,1362.8) scale(1.1900,1.0000)" font-size="53" text-anchor="middle" fill="#262626">25</text>
<text class="sans" transform="translate(2008.16,1362.8) scale(1.1900,1.0000)" font-size="53" text-anchor="middle" fill="#262626">30</text>
<text class="sans" transform="translate(2305.6,1362.8) scale(1.1900,1.0000)" font-size="53" text-anchor="middle" fill="#262626">35</text>
<text class="sans" transform="translate(1733.1,132.8) scale(1.1830,1.0000)" font-size="53" text-anchor="start" fill="#000">Leader velocity</text>
<text class="sans" transform="translate(1733.1,199.8) scale(1.1830,1.0000)" font-size="53" text-anchor="start" fill="#000">Follower vehicle <tspan dx="2.28">1</tspan></text><g transform="translate(1733.1,199.8) scale(1.1830,1.0000)" fill="#ffffff"><rect x="399.87" y="-4.19" width="10.39" height="5.04"/><rect x="414.92" y="-4.19" width="9.86" height="5.04"/></g>
<text class="sans" transform="translate(1733.1,267.6) scale(1.1830,1.0000)" font-size="53" text-anchor="start" fill="#000">Follower vehicle 2</text>
<text class="sans" transform="translate(1733.1,335.4) scale(1.1830,1.0000)" font-size="53" text-anchor="start" fill="#000">Follower vehicle 3</text>
<text class="sans" transform="translate(1733.1,403.4) scale(1.1830,1.0000)" font-size="53" text-anchor="start" fill="#000">Follower vehicle 4</text>
<text class="serif" transform="translate(1107.3,1423) scale(1.3860,1.0000)" font-size="50" text-anchor="start" fill="#262626">Time </text>
<text class="serif" transform="translate(1419.2,1423) scale(1.2750,1.0000)" font-size="50" text-anchor="end" fill="#262626">(secs)</text>
<text class="serif" transform="translate(57,665.5) rotate(-90) scale(1.0000,1.1500)" font-size="55.9" text-anchor="middle" fill="#000">Velocity(m/sec)</text>
</svg></body></html>
